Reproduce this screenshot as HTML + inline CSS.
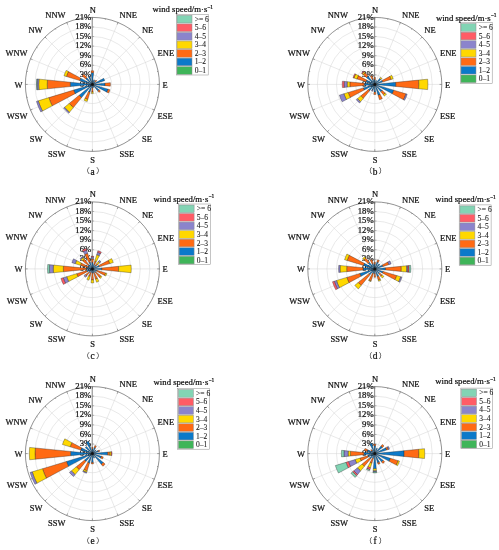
<!DOCTYPE html>
<html lang="en"><head><meta charset="utf-8"><title>Wind rose diagrams</title>
<style>html,body{margin:0;padding:0;background:#fff}svg{display:block}text{font-family:"Liberation Serif","Noto Serif CJK SC",serif;fill:#111;stroke:#111;stroke-width:0.22px}.d{font-size:8.5px}.p{font-size:8.7px}.l{font-size:7.5px;stroke-width:0.08px;fill:#1a1a1a}.t{font-size:8.7px}.c{font-size:9.4px}.q{font-family:"Noto Serif CJK SC","Liberation Serif",serif;font-size:7.5px;stroke-width:0.05px}</style></head>
<body>
<svg width="499" height="550" viewBox="0 0 499 550">
<rect width="499" height="550" fill="#fff"/>
<g transform="translate(92.4 84.4)">
<g>
<circle r="9.57" fill="none" stroke="#d2d2d2" stroke-width="0.5"/>
<circle r="19.14" fill="none" stroke="#d2d2d2" stroke-width="0.5"/>
<circle r="28.71" fill="none" stroke="#d2d2d2" stroke-width="0.5"/>
<circle r="38.29" fill="none" stroke="#d2d2d2" stroke-width="0.5"/>
<circle r="47.86" fill="none" stroke="#d2d2d2" stroke-width="0.5"/>
<circle r="57.43" fill="none" stroke="#d2d2d2" stroke-width="0.5"/>
<path d="M0 0L0 -67M0 0L25.64 -61.9M0 0L47.38 -47.38M0 0L61.9 -25.64M0 0L67 -0M0 0L61.9 25.64M0 0L47.38 47.38M0 0L25.64 61.9M0 0L0 67M0 0L-25.64 61.9M0 0L-47.38 47.38M0 0L-61.9 25.64M0 0L-67 0M0 0L-61.9 -25.64M0 0L-47.38 -47.38M0 0L-25.64 -61.9" stroke="#d2d2d2" stroke-width="0.5" fill="none"/>
<circle r="67" fill="none" stroke="#4a4a4a" stroke-width="0.6"/>
<path d="M0 -67L0 -64.8M13.07 -65.71L12.86 -64.63M25.64 -61.9L24.8 -59.87M37.22 -55.71L36.61 -54.79M47.38 -47.38L45.82 -45.82M55.71 -37.22L54.79 -36.61M61.9 -25.64L59.87 -24.8M65.71 -13.07L64.63 -12.86M67 -0L64.8 -0M65.71 13.07L64.63 12.86M61.9 25.64L59.87 24.8M55.71 37.22L54.79 36.61M47.38 47.38L45.82 45.82M37.22 55.71L36.61 54.79M25.64 61.9L24.8 59.87M13.07 65.71L12.86 64.63M0 67L0 64.8M-13.07 65.71L-12.86 64.63M-25.64 61.9L-24.8 59.87M-37.22 55.71L-36.61 54.79M-47.38 47.38L-45.82 45.82M-55.71 37.22L-54.79 36.61M-61.9 25.64L-59.87 24.8M-65.71 13.07L-64.63 12.86M-67 0L-64.8 0M-65.71 -13.07L-64.63 -12.86M-61.9 -25.64L-59.87 -24.8M-55.71 -37.22L-54.79 -36.61M-47.38 -47.38L-45.82 -45.82M-37.22 -55.71L-36.61 -54.79M-25.64 -61.9L-24.8 -59.87M-13.07 -65.71L-12.86 -64.63" stroke="#4a4a4a" stroke-width="0.5" fill="none"/>
<path d="M-0.2 0V-67" stroke="#444" stroke-width="0.6" fill="none"/>
<path d="M0.1 -9.57h1.6M0.1 -19.14h1.6M0.1 -28.71h1.6M0.1 -38.29h1.6M0.1 -47.86h1.6M0.1 -57.43h1.6" stroke="#666" stroke-width="0.45" fill="none"/>
<text class="p" x="-1.1" y="2.15" text-anchor="end">0%</text>
<text class="p" x="-1.1" y="-7.42" text-anchor="end">3%</text>
<text class="p" x="-1.1" y="-16.99" text-anchor="end">6%</text>
<text class="p" x="-1.1" y="-26.56" text-anchor="end">9%</text>
<text class="p" x="-1.1" y="-36.14" text-anchor="end">12%</text>
<text class="p" x="-1.1" y="-45.71" text-anchor="end">15%</text>
<text class="p" x="-1.1" y="-55.28" text-anchor="end">18%</text>
<text class="p" x="-1.1" y="-64.85" text-anchor="end">21%</text>
<text class="d" x="0.3" y="-71.55" text-anchor="middle">N</text>
<text class="d" x="27.2" y="-66.35" text-anchor="start">NNE</text>
<text class="d" x="49.5" y="-51.35" text-anchor="start">NE</text>
<text class="d" x="65.2" y="-28.35" text-anchor="start">ENE</text>
<text class="d" x="70.2" y="3.25" text-anchor="start">E</text>
<text class="d" x="65.2" y="34.75" text-anchor="start">ESE</text>
<text class="d" x="49.5" y="57.65" text-anchor="start">SE</text>
<text class="d" x="27.2" y="72.65" text-anchor="start">SSE</text>
<text class="d" x="0.3" y="78.15" text-anchor="middle">S</text>
<text class="d" x="-26.8" y="72.65" text-anchor="end">SSW</text>
<text class="d" x="-49.8" y="57.65" text-anchor="end">SW</text>
<text class="d" x="-64.8" y="34.75" text-anchor="end">WSW</text>
<text class="d" x="-69.8" y="3.25" text-anchor="end">W</text>
<text class="d" x="-64.8" y="-28.55" text-anchor="end">WNW</text>
<text class="d" x="-49.8" y="-50.95" text-anchor="end">NW</text>
<text class="d" x="-26.8" y="-66.05" text-anchor="end">NNW</text>
</g>
<path d="M0 0L-1.15 -11.64A11.7 11.7 0 0 1 1.15 -11.64Z" fill="#0b79c9" stroke="#151515" stroke-width="0.33" stroke-linejoin="round"/>
<path d="M-1.15 -11.64L-1.33 -13.53A13.6 13.6 0 0 1 1.33 -13.53L1.15 -11.64A11.7 11.7 0 0 0 -1.15 -11.64Z" fill="#ff6a14" stroke="#151515" stroke-width="0.33" stroke-linejoin="round"/>
<path d="M0 0L1.38 -4.54A4.74 4.74 0 0 1 2.24 -4.18Z" fill="#0b79c9" stroke="#151515" stroke-width="0.33" stroke-linejoin="round"/>
<path d="M0 0L2.41 -2.93A3.79 3.79 0 0 1 2.93 -2.41Z" fill="#0b79c9" stroke="#151515" stroke-width="0.33" stroke-linejoin="round"/>
<path d="M2.41 -2.93L3.51 -4.28A5.53 5.53 0 0 1 4.28 -3.51L2.93 -2.41A3.79 3.79 0 0 0 2.41 -2.93Z" fill="#ff6a14" stroke="#151515" stroke-width="0.33" stroke-linejoin="round"/>
<path d="M0 0L11.32 -6.05A12.84 12.84 0 0 1 12.28 -3.73Z" fill="#0b79c9" stroke="#151515" stroke-width="0.33" stroke-linejoin="round"/>
<path d="M0 0L12.59 -1.24A12.65 12.65 0 0 1 12.59 1.24Z" fill="#0b79c9" stroke="#151515" stroke-width="0.33" stroke-linejoin="round"/>
<path d="M12.59 -1.24L17.94 -1.77A18.02 18.02 0 0 1 17.94 1.77L12.59 1.24A12.65 12.65 0 0 0 12.59 -1.24Z" fill="#ff6a14" stroke="#151515" stroke-width="0.33" stroke-linejoin="round"/>
<path d="M0 0L15.73 4.77A16.44 16.44 0 0 1 14.5 7.75Z" fill="#0b79c9" stroke="#151515" stroke-width="0.33" stroke-linejoin="round"/>
<path d="M15.73 4.77L17.55 5.32A18.34 18.34 0 0 1 16.17 8.64L14.5 7.75A16.44 16.44 0 0 0 15.73 4.77Z" fill="#ff6a14" stroke="#151515" stroke-width="0.33" stroke-linejoin="round"/>
<path d="M0 0L6.6 5.42A8.54 8.54 0 0 1 5.42 6.6Z" fill="#0b79c9" stroke="#151515" stroke-width="0.33" stroke-linejoin="round"/>
<path d="M6.6 5.42L8.07 6.62A10.43 10.43 0 0 1 6.62 8.07L5.42 6.6A8.54 8.54 0 0 0 6.6 5.42Z" fill="#ff6a14" stroke="#151515" stroke-width="0.33" stroke-linejoin="round"/>
<path d="M0 0L1.49 2.79A3.16 3.16 0 0 1 0.92 3.03Z" fill="#0b79c9" stroke="#151515" stroke-width="0.33" stroke-linejoin="round"/>
<path d="M0 0L0.34 3.46A3.48 3.48 0 0 1 -0.34 3.46Z" fill="#0b79c9" stroke="#151515" stroke-width="0.33" stroke-linejoin="round"/>
<path d="M0.34 3.46L0.74 7.55A7.59 7.59 0 0 1 -0.74 7.55L-0.34 3.46A3.48 3.48 0 0 0 0.34 3.46Z" fill="#ff6a14" stroke="#151515" stroke-width="0.33" stroke-linejoin="round"/>
<path d="M0.74 7.55L0.9 9.13A9.17 9.17 0 0 1 -0.9 9.13L-0.74 7.55A7.59 7.59 0 0 0 0.74 7.55Z" fill="#ffd800" stroke="#151515" stroke-width="0.33" stroke-linejoin="round"/>
<path d="M0 0L-2.39 7.87A8.22 8.22 0 0 1 -3.88 7.25Z" fill="#0b79c9" stroke="#151515" stroke-width="0.33" stroke-linejoin="round"/>
<path d="M-2.39 7.87L-4.59 15.13A15.81 15.81 0 0 1 -7.45 13.94L-3.88 7.25A8.22 8.22 0 0 0 -2.39 7.87Z" fill="#ff6a14" stroke="#151515" stroke-width="0.33" stroke-linejoin="round"/>
<path d="M-4.59 15.13L-5.19 17.1A17.86 17.86 0 0 1 -8.42 15.76L-7.45 13.94A15.81 15.81 0 0 0 -4.59 15.13Z" fill="#ffd800" stroke="#151515" stroke-width="0.33" stroke-linejoin="round"/>
<path d="M0 0L-10.83 13.2A17.07 17.07 0 0 1 -13.2 10.83Z" fill="#0b79c9" stroke="#151515" stroke-width="0.33" stroke-linejoin="round"/>
<path d="M-10.83 13.2L-19.06 23.22A30.04 30.04 0 0 1 -23.22 19.06L-13.2 10.83A17.07 17.07 0 0 0 -10.83 13.2Z" fill="#ff6a14" stroke="#151515" stroke-width="0.33" stroke-linejoin="round"/>
<path d="M-19.06 23.22L-22.87 27.86A36.05 36.05 0 0 1 -27.86 22.87L-23.22 19.06A30.04 30.04 0 0 0 -19.06 23.22Z" fill="#ffd800" stroke="#151515" stroke-width="0.33" stroke-linejoin="round"/>
<path d="M-22.87 27.86L-23.67 28.84A37.31 37.31 0 0 1 -28.84 23.67L-27.86 22.87A36.05 36.05 0 0 0 -22.87 27.86Z" fill="#8b84cc" stroke="#151515" stroke-width="0.33" stroke-linejoin="round"/>
<path d="M0 0L-17.29 9.24A19.6 19.6 0 0 1 -18.76 5.69Z" fill="#0b79c9" stroke="#151515" stroke-width="0.33" stroke-linejoin="round"/>
<path d="M-17.29 9.24L-40.16 21.46A45.53 45.53 0 0 1 -43.57 13.22L-18.76 5.69A19.6 19.6 0 0 0 -17.29 9.24Z" fill="#ff6a14" stroke="#151515" stroke-width="0.33" stroke-linejoin="round"/>
<path d="M-40.16 21.46L-49.92 26.68A56.6 56.6 0 0 1 -54.16 16.43L-43.57 13.22A45.53 45.53 0 0 0 -40.16 21.46Z" fill="#ffd800" stroke="#151515" stroke-width="0.33" stroke-linejoin="round"/>
<path d="M-49.92 26.68L-51.59 27.57A58.5 58.5 0 0 1 -55.98 16.98L-54.16 16.43A56.6 56.6 0 0 0 -49.92 26.68Z" fill="#8b84cc" stroke="#151515" stroke-width="0.33" stroke-linejoin="round"/>
<path d="M0 0L-22.03 2.17A22.13 22.13 0 0 1 -22.03 -2.17Z" fill="#0b79c9" stroke="#151515" stroke-width="0.33" stroke-linejoin="round"/>
<path d="M-22.03 2.17L-45 4.43A45.22 45.22 0 0 1 -45 -4.43L-22.03 -2.17A22.13 22.13 0 0 0 -22.03 2.17Z" fill="#ff6a14" stroke="#151515" stroke-width="0.33" stroke-linejoin="round"/>
<path d="M-45 4.43L-53.49 5.27A53.75 53.75 0 0 1 -53.49 -5.27L-45 -4.43A45.22 45.22 0 0 0 -45 4.43Z" fill="#ffd800" stroke="#151515" stroke-width="0.33" stroke-linejoin="round"/>
<path d="M-53.49 5.27L-55.07 5.42A55.33 55.33 0 0 1 -55.07 -5.42L-53.49 -5.27A53.75 53.75 0 0 0 -53.49 5.27Z" fill="#8b84cc" stroke="#151515" stroke-width="0.33" stroke-linejoin="round"/>
<path d="M-55.07 5.42L-55.7 5.49A55.97 55.97 0 0 1 -55.7 -5.49L-55.07 -5.42A55.33 55.33 0 0 0 -55.07 5.42Z" fill="#82d4b4" stroke="#151515" stroke-width="0.33" stroke-linejoin="round"/>
<path d="M0 0L-12.71 -3.85A13.28 13.28 0 0 1 -11.71 -6.26Z" fill="#0b79c9" stroke="#151515" stroke-width="0.33" stroke-linejoin="round"/>
<path d="M-12.71 -3.85L-26.02 -7.89A27.19 27.19 0 0 1 -23.98 -12.82L-11.71 -6.26A13.28 13.28 0 0 0 -12.71 -3.85Z" fill="#ff6a14" stroke="#151515" stroke-width="0.33" stroke-linejoin="round"/>
<path d="M-26.02 -7.89L-28.44 -8.63A29.72 29.72 0 0 1 -26.21 -14.01L-23.98 -12.82A27.19 27.19 0 0 0 -26.02 -7.89Z" fill="#ffd800" stroke="#151515" stroke-width="0.33" stroke-linejoin="round"/>
<path d="M0 0L-6.6 -5.42A8.54 8.54 0 0 1 -5.42 -6.6Z" fill="#0b79c9" stroke="#151515" stroke-width="0.33" stroke-linejoin="round"/>
<path d="M-6.6 -5.42L-10.27 -8.42A13.28 13.28 0 0 1 -8.42 -10.27L-5.42 -6.6A8.54 8.54 0 0 0 -6.6 -5.42Z" fill="#ff6a14" stroke="#151515" stroke-width="0.33" stroke-linejoin="round"/>
<path d="M0 0L-3.88 -7.25A8.22 8.22 0 0 1 -2.39 -7.87Z" fill="#0b79c9" stroke="#151515" stroke-width="0.33" stroke-linejoin="round"/>
<circle r="1.5" fill="#111" fill-opacity="0.85"/>
<text class="c" x="0.3" y="90.5" text-anchor="middle">a</text><text class="q" x="-2.4" y="90.1" text-anchor="end">（</text><text class="q" x="3.6" y="90.1" text-anchor="start">）</text>
</g>
<g transform="translate(176.3 14.4)">
<rect x="0" y="0" width="31.9" height="60.6" fill="#fff" stroke="#8a8a8a" stroke-width="0.5"/>
<rect x="0.7" y="1" width="15" height="7.6" fill="#82d4b4" stroke="#8f8f8f" stroke-width="0.5"/>
<text class="l" x="18.4" y="7.3">&gt;= 6</text>
<rect x="0.7" y="9.55" width="15" height="7.6" fill="#ff5c66" stroke="#8f8f8f" stroke-width="0.5"/>
<text class="l" x="18.4" y="15.85">5–6</text>
<rect x="0.7" y="18.1" width="15" height="7.6" fill="#8b84cc" stroke="#8f8f8f" stroke-width="0.5"/>
<text class="l" x="18.4" y="24.4">4–5</text>
<rect x="0.7" y="26.65" width="15" height="7.6" fill="#ffd800" stroke="#8f8f8f" stroke-width="0.5"/>
<text class="l" x="18.4" y="32.95">3–4</text>
<rect x="0.7" y="35.2" width="15" height="7.6" fill="#ff6a14" stroke="#8f8f8f" stroke-width="0.5"/>
<text class="l" x="18.4" y="41.5">2–3</text>
<rect x="0.7" y="43.75" width="15" height="7.6" fill="#0b79c9" stroke="#8f8f8f" stroke-width="0.5"/>
<text class="l" x="18.4" y="50.05">1–2</text>
<rect x="0.7" y="52.3" width="15" height="7.6" fill="#3fb559" stroke="#8f8f8f" stroke-width="0.5"/>
<text class="l" x="18.4" y="58.6">0–1</text>
</g>
<text class="t" x="152.5" y="11.9">wind speed/m·s<tspan font-size="5.4" dy="-3.2">−1</tspan></text>
<g transform="translate(374.8 84.4)">
<g>
<circle r="9.57" fill="none" stroke="#d2d2d2" stroke-width="0.5"/>
<circle r="19.14" fill="none" stroke="#d2d2d2" stroke-width="0.5"/>
<circle r="28.71" fill="none" stroke="#d2d2d2" stroke-width="0.5"/>
<circle r="38.29" fill="none" stroke="#d2d2d2" stroke-width="0.5"/>
<circle r="47.86" fill="none" stroke="#d2d2d2" stroke-width="0.5"/>
<circle r="57.43" fill="none" stroke="#d2d2d2" stroke-width="0.5"/>
<path d="M0 0L0 -67M0 0L25.64 -61.9M0 0L47.38 -47.38M0 0L61.9 -25.64M0 0L67 -0M0 0L61.9 25.64M0 0L47.38 47.38M0 0L25.64 61.9M0 0L0 67M0 0L-25.64 61.9M0 0L-47.38 47.38M0 0L-61.9 25.64M0 0L-67 0M0 0L-61.9 -25.64M0 0L-47.38 -47.38M0 0L-25.64 -61.9" stroke="#d2d2d2" stroke-width="0.5" fill="none"/>
<circle r="67" fill="none" stroke="#4a4a4a" stroke-width="0.6"/>
<path d="M0 -67L0 -64.8M13.07 -65.71L12.86 -64.63M25.64 -61.9L24.8 -59.87M37.22 -55.71L36.61 -54.79M47.38 -47.38L45.82 -45.82M55.71 -37.22L54.79 -36.61M61.9 -25.64L59.87 -24.8M65.71 -13.07L64.63 -12.86M67 -0L64.8 -0M65.71 13.07L64.63 12.86M61.9 25.64L59.87 24.8M55.71 37.22L54.79 36.61M47.38 47.38L45.82 45.82M37.22 55.71L36.61 54.79M25.64 61.9L24.8 59.87M13.07 65.71L12.86 64.63M0 67L0 64.8M-13.07 65.71L-12.86 64.63M-25.64 61.9L-24.8 59.87M-37.22 55.71L-36.61 54.79M-47.38 47.38L-45.82 45.82M-55.71 37.22L-54.79 36.61M-61.9 25.64L-59.87 24.8M-65.71 13.07L-64.63 12.86M-67 0L-64.8 0M-65.71 -13.07L-64.63 -12.86M-61.9 -25.64L-59.87 -24.8M-55.71 -37.22L-54.79 -36.61M-47.38 -47.38L-45.82 -45.82M-37.22 -55.71L-36.61 -54.79M-25.64 -61.9L-24.8 -59.87M-13.07 -65.71L-12.86 -64.63" stroke="#4a4a4a" stroke-width="0.5" fill="none"/>
<path d="M-0.2 0V-67" stroke="#444" stroke-width="0.6" fill="none"/>
<path d="M0.1 -9.57h1.6M0.1 -19.14h1.6M0.1 -28.71h1.6M0.1 -38.29h1.6M0.1 -47.86h1.6M0.1 -57.43h1.6" stroke="#666" stroke-width="0.45" fill="none"/>
<text class="p" x="-1.1" y="2.15" text-anchor="end">0%</text>
<text class="p" x="-1.1" y="-7.42" text-anchor="end">3%</text>
<text class="p" x="-1.1" y="-16.99" text-anchor="end">6%</text>
<text class="p" x="-1.1" y="-26.56" text-anchor="end">9%</text>
<text class="p" x="-1.1" y="-36.14" text-anchor="end">12%</text>
<text class="p" x="-1.1" y="-45.71" text-anchor="end">15%</text>
<text class="p" x="-1.1" y="-55.28" text-anchor="end">18%</text>
<text class="p" x="-1.1" y="-64.85" text-anchor="end">21%</text>
<text class="d" x="0.3" y="-71.55" text-anchor="middle">N</text>
<text class="d" x="27.2" y="-66.35" text-anchor="start">NNE</text>
<text class="d" x="49.5" y="-51.35" text-anchor="start">NE</text>
<text class="d" x="65.2" y="-28.35" text-anchor="start">ENE</text>
<text class="d" x="70.2" y="3.25" text-anchor="start">E</text>
<text class="d" x="65.2" y="34.75" text-anchor="start">ESE</text>
<text class="d" x="49.5" y="57.65" text-anchor="start">SE</text>
<text class="d" x="27.2" y="72.65" text-anchor="start">SSE</text>
<text class="d" x="0.3" y="78.15" text-anchor="middle">S</text>
<text class="d" x="-26.8" y="72.65" text-anchor="end">SSW</text>
<text class="d" x="-49.8" y="57.65" text-anchor="end">SW</text>
<text class="d" x="-64.8" y="34.75" text-anchor="end">WSW</text>
<text class="d" x="-69.8" y="3.25" text-anchor="end">W</text>
<text class="d" x="-64.8" y="-28.55" text-anchor="end">WNW</text>
<text class="d" x="-49.8" y="-50.95" text-anchor="end">NW</text>
<text class="d" x="-26.8" y="-66.05" text-anchor="end">NNW</text>
</g>
<path d="M0 0L-0.46 -4.72A4.74 4.74 0 0 1 0.46 -4.72Z" fill="#0b79c9" stroke="#151515" stroke-width="0.33" stroke-linejoin="round"/>
<path d="M-0.46 -4.72L-0.68 -6.92A6.96 6.96 0 0 1 0.68 -6.92L0.46 -4.72A4.74 4.74 0 0 0 -0.46 -4.72Z" fill="#ff6a14" stroke="#151515" stroke-width="0.33" stroke-linejoin="round"/>
<path d="M0 0L1.19 -3.93A4.11 4.11 0 0 1 1.94 -3.63Z" fill="#0b79c9" stroke="#151515" stroke-width="0.33" stroke-linejoin="round"/>
<path d="M0 0L5.01 -6.11A7.9 7.9 0 0 1 6.11 -5.01Z" fill="#0b79c9" stroke="#151515" stroke-width="0.33" stroke-linejoin="round"/>
<path d="M5.01 -6.11L5.82 -7.09A9.17 9.17 0 0 1 7.09 -5.82L6.11 -5.01A7.9 7.9 0 0 0 5.01 -6.11Z" fill="#ffd800" stroke="#151515" stroke-width="0.33" stroke-linejoin="round"/>
<path d="M0 0L7.25 -3.88A8.22 8.22 0 0 1 7.87 -2.39Z" fill="#0b79c9" stroke="#151515" stroke-width="0.33" stroke-linejoin="round"/>
<path d="M7.25 -3.88L15.06 -8.05A17.07 17.07 0 0 1 16.34 -4.96L7.87 -2.39A8.22 8.22 0 0 0 7.25 -3.88Z" fill="#ff6a14" stroke="#151515" stroke-width="0.33" stroke-linejoin="round"/>
<path d="M15.06 -8.05L16.93 -9.05A19.19 19.19 0 0 1 18.37 -5.57L16.34 -4.96A17.07 17.07 0 0 0 15.06 -8.05Z" fill="#ffd800" stroke="#151515" stroke-width="0.33" stroke-linejoin="round"/>
<path d="M0 0L20.96 -2.06A21.06 21.06 0 0 1 20.96 2.06Z" fill="#0b79c9" stroke="#151515" stroke-width="0.33" stroke-linejoin="round"/>
<path d="M20.96 -2.06L43.9 -4.32A44.11 44.11 0 0 1 43.9 4.32L20.96 2.06A21.06 21.06 0 0 0 20.96 -2.06Z" fill="#ff6a14" stroke="#151515" stroke-width="0.33" stroke-linejoin="round"/>
<path d="M43.9 -4.32L52.86 -5.21A53.12 53.12 0 0 1 52.86 5.21L43.9 4.32A44.11 44.11 0 0 0 43.9 -4.32Z" fill="#ffd800" stroke="#151515" stroke-width="0.33" stroke-linejoin="round"/>
<path d="M0 0L18.97 5.75A19.83 19.83 0 0 1 17.48 9.35Z" fill="#0b79c9" stroke="#151515" stroke-width="0.33" stroke-linejoin="round"/>
<path d="M18.97 5.75L31.17 9.45A32.57 32.57 0 0 1 28.72 15.35L17.48 9.35A19.83 19.83 0 0 0 18.97 5.75Z" fill="#ff6a14" stroke="#151515" stroke-width="0.33" stroke-linejoin="round"/>
<path d="M31.17 9.45L32.38 9.82A33.83 33.83 0 0 1 29.84 15.95L28.72 15.35A32.57 32.57 0 0 0 31.17 9.45Z" fill="#8b84cc" stroke="#151515" stroke-width="0.33" stroke-linejoin="round"/>
<path d="M0 0L7.33 6.02A9.49 9.49 0 0 1 6.02 7.33Z" fill="#0b79c9" stroke="#151515" stroke-width="0.33" stroke-linejoin="round"/>
<path d="M7.33 6.02L10.39 8.53A13.44 13.44 0 0 1 8.53 10.39L6.02 7.33A9.49 9.49 0 0 0 7.33 6.02Z" fill="#ff6a14" stroke="#151515" stroke-width="0.33" stroke-linejoin="round"/>
<path d="M10.39 8.53L11.73 9.63A15.18 15.18 0 0 1 9.63 11.73L8.53 10.39A13.44 13.44 0 0 0 10.39 8.53Z" fill="#ffd800" stroke="#151515" stroke-width="0.33" stroke-linejoin="round"/>
<path d="M0 0L5.37 10.04A11.38 11.38 0 0 1 3.3 10.89Z" fill="#0b79c9" stroke="#151515" stroke-width="0.33" stroke-linejoin="round"/>
<path d="M5.37 10.04L7.54 14.11A16 16 0 0 1 4.64 15.31L3.3 10.89A11.38 11.38 0 0 0 5.37 10.04Z" fill="#ff6a14" stroke="#151515" stroke-width="0.33" stroke-linejoin="round"/>
<path d="M0 0L0.74 7.55A7.59 7.59 0 0 1 -0.74 7.55Z" fill="#0b79c9" stroke="#151515" stroke-width="0.33" stroke-linejoin="round"/>
<path d="M0.74 7.55L0.99 10.07A10.12 10.12 0 0 1 -0.99 10.07L-0.74 7.55A7.59 7.59 0 0 0 0.74 7.55Z" fill="#ff6a14" stroke="#151515" stroke-width="0.33" stroke-linejoin="round"/>
<path d="M0 0L-1.74 5.75A6.01 6.01 0 0 1 -2.83 5.3Z" fill="#0b79c9" stroke="#151515" stroke-width="0.33" stroke-linejoin="round"/>
<path d="M-1.74 5.75L-2.11 6.96A7.27 7.27 0 0 1 -3.43 6.41L-2.83 5.3A6.01 6.01 0 0 0 -1.74 5.75Z" fill="#8b84cc" stroke="#151515" stroke-width="0.33" stroke-linejoin="round"/>
<path d="M0 0L-5.22 6.35A8.22 8.22 0 0 1 -6.35 5.22Z" fill="#0b79c9" stroke="#151515" stroke-width="0.33" stroke-linejoin="round"/>
<path d="M-5.22 6.35L-11.43 13.93A18.02 18.02 0 0 1 -13.93 11.43L-6.35 5.22A8.22 8.22 0 0 0 -5.22 6.35Z" fill="#ff6a14" stroke="#151515" stroke-width="0.33" stroke-linejoin="round"/>
<path d="M-11.43 13.93L-14.24 17.35A22.45 22.45 0 0 1 -17.35 14.24L-13.93 11.43A18.02 18.02 0 0 0 -11.43 13.93Z" fill="#ffd800" stroke="#151515" stroke-width="0.33" stroke-linejoin="round"/>
<path d="M-14.24 17.35L-15.24 18.58A24.03 24.03 0 0 1 -18.58 15.24L-17.35 14.24A22.45 22.45 0 0 0 -14.24 17.35Z" fill="#8b84cc" stroke="#151515" stroke-width="0.33" stroke-linejoin="round"/>
<path d="M0 0L-10.6 5.66A12.02 12.02 0 0 1 -11.5 3.49Z" fill="#0b79c9" stroke="#151515" stroke-width="0.33" stroke-linejoin="round"/>
<path d="M-10.6 5.66L-24.54 13.12A27.82 27.82 0 0 1 -26.63 8.08L-11.5 3.49A12.02 12.02 0 0 0 -10.6 5.66Z" fill="#ff6a14" stroke="#151515" stroke-width="0.33" stroke-linejoin="round"/>
<path d="M-24.54 13.12L-28.44 15.2A32.25 32.25 0 0 1 -30.86 9.36L-26.63 8.08A27.82 27.82 0 0 0 -24.54 13.12Z" fill="#ffd800" stroke="#151515" stroke-width="0.33" stroke-linejoin="round"/>
<path d="M-28.44 15.2L-32.63 17.44A36.99 36.99 0 0 1 -35.4 10.74L-30.86 9.36A32.25 32.25 0 0 0 -28.44 15.2Z" fill="#8b84cc" stroke="#151515" stroke-width="0.33" stroke-linejoin="round"/>
<path d="M0 0L-10.54 1.04A10.59 10.59 0 0 1 -10.54 -1.04Z" fill="#0b79c9" stroke="#151515" stroke-width="0.33" stroke-linejoin="round"/>
<path d="M-10.54 1.04L-24.86 2.45A24.98 24.98 0 0 1 -24.86 -2.45L-10.54 -1.04A10.59 10.59 0 0 0 -10.54 1.04Z" fill="#ff6a14" stroke="#151515" stroke-width="0.33" stroke-linejoin="round"/>
<path d="M-24.86 2.45L-27.56 2.71A27.7 27.7 0 0 1 -27.56 -2.71L-24.86 -2.45A24.98 24.98 0 0 0 -24.86 2.45Z" fill="#ffd800" stroke="#151515" stroke-width="0.33" stroke-linejoin="round"/>
<path d="M-27.56 2.71L-30.52 3.01A30.67 30.67 0 0 1 -30.52 -3.01L-27.56 -2.71A27.7 27.7 0 0 0 -27.56 2.71Z" fill="#8b84cc" stroke="#151515" stroke-width="0.33" stroke-linejoin="round"/>
<path d="M-30.52 3.01L-32.41 3.19A32.57 32.57 0 0 1 -32.41 -3.19L-30.52 -3.01A30.67 30.67 0 0 0 -30.52 3.01Z" fill="#ff5c66" stroke="#151515" stroke-width="0.33" stroke-linejoin="round"/>
<path d="M0 0L-8.77 -2.66A9.17 9.17 0 0 1 -8.09 -4.32Z" fill="#0b79c9" stroke="#151515" stroke-width="0.33" stroke-linejoin="round"/>
<path d="M-8.77 -2.66L-17.85 -5.42A18.66 18.66 0 0 1 -16.45 -8.79L-8.09 -4.32A9.17 9.17 0 0 0 -8.77 -2.66Z" fill="#ff6a14" stroke="#151515" stroke-width="0.33" stroke-linejoin="round"/>
<path d="M-17.85 -5.42L-20.88 -6.33A21.82 21.82 0 0 1 -19.24 -10.28L-16.45 -8.79A18.66 18.66 0 0 0 -17.85 -5.42Z" fill="#ffd800" stroke="#151515" stroke-width="0.33" stroke-linejoin="round"/>
<path d="M-20.88 -6.33L-21.79 -6.61A22.77 22.77 0 0 1 -20.08 -10.73L-19.24 -10.28A21.82 21.82 0 0 0 -20.88 -6.33Z" fill="#ff5c66" stroke="#151515" stroke-width="0.33" stroke-linejoin="round"/>
<path d="M0 0L-8.31 -6.82A10.75 10.75 0 0 1 -6.82 -8.31Z" fill="#0b79c9" stroke="#151515" stroke-width="0.33" stroke-linejoin="round"/>
<path d="M-8.31 -6.82L-11.73 -9.63A15.18 15.18 0 0 1 -9.63 -11.73L-6.82 -8.31A10.75 10.75 0 0 0 -8.31 -6.82Z" fill="#ff6a14" stroke="#151515" stroke-width="0.33" stroke-linejoin="round"/>
<path d="M-11.73 -9.63L-12.71 -10.43A16.44 16.44 0 0 1 -10.43 -12.71L-9.63 -11.73A15.18 15.18 0 0 0 -11.73 -9.63Z" fill="#ffd800" stroke="#151515" stroke-width="0.33" stroke-linejoin="round"/>
<path d="M-12.71 -10.43L-13.44 -11.03A17.39 17.39 0 0 1 -11.03 -13.44L-10.43 -12.71A16.44 16.44 0 0 0 -12.71 -10.43Z" fill="#ff5c66" stroke="#151515" stroke-width="0.33" stroke-linejoin="round"/>
<path d="M0 0L-2.68 -5.02A5.69 5.69 0 0 1 -1.65 -5.45Z" fill="#0b79c9" stroke="#151515" stroke-width="0.33" stroke-linejoin="round"/>
<path d="M-2.68 -5.02L-4.32 -8.09A9.17 9.17 0 0 1 -2.66 -8.77L-1.65 -5.45A5.69 5.69 0 0 0 -2.68 -5.02Z" fill="#ff6a14" stroke="#151515" stroke-width="0.33" stroke-linejoin="round"/>
<circle r="1.5" fill="#111" fill-opacity="0.85"/>
<text class="c" x="0.3" y="90.5" text-anchor="middle">b</text><text class="q" x="-2.4" y="90.1" text-anchor="end">（</text><text class="q" x="3.6" y="90.1" text-anchor="start">）</text>
</g>
<g transform="translate(460.3 22.7)">
<rect x="0" y="0" width="31.9" height="60.6" fill="#fff" stroke="#8a8a8a" stroke-width="0.5"/>
<rect x="0.7" y="1" width="15" height="7.6" fill="#82d4b4" stroke="#8f8f8f" stroke-width="0.5"/>
<text class="l" x="18.4" y="7.3">&gt;= 6</text>
<rect x="0.7" y="9.55" width="15" height="7.6" fill="#ff5c66" stroke="#8f8f8f" stroke-width="0.5"/>
<text class="l" x="18.4" y="15.85">5–6</text>
<rect x="0.7" y="18.1" width="15" height="7.6" fill="#8b84cc" stroke="#8f8f8f" stroke-width="0.5"/>
<text class="l" x="18.4" y="24.4">4–5</text>
<rect x="0.7" y="26.65" width="15" height="7.6" fill="#ffd800" stroke="#8f8f8f" stroke-width="0.5"/>
<text class="l" x="18.4" y="32.95">3–4</text>
<rect x="0.7" y="35.2" width="15" height="7.6" fill="#ff6a14" stroke="#8f8f8f" stroke-width="0.5"/>
<text class="l" x="18.4" y="41.5">2–3</text>
<rect x="0.7" y="43.75" width="15" height="7.6" fill="#0b79c9" stroke="#8f8f8f" stroke-width="0.5"/>
<text class="l" x="18.4" y="50.05">1–2</text>
<rect x="0.7" y="52.3" width="15" height="7.6" fill="#3fb559" stroke="#8f8f8f" stroke-width="0.5"/>
<text class="l" x="18.4" y="58.6">0–1</text>
</g>
<text class="t" x="435.9" y="20.5">wind speed/m·s<tspan font-size="5.4" dy="-3.2">−1</tspan></text>
<g transform="translate(92.4 268.9)">
<g>
<circle r="9.57" fill="none" stroke="#d2d2d2" stroke-width="0.5"/>
<circle r="19.14" fill="none" stroke="#d2d2d2" stroke-width="0.5"/>
<circle r="28.71" fill="none" stroke="#d2d2d2" stroke-width="0.5"/>
<circle r="38.29" fill="none" stroke="#d2d2d2" stroke-width="0.5"/>
<circle r="47.86" fill="none" stroke="#d2d2d2" stroke-width="0.5"/>
<circle r="57.43" fill="none" stroke="#d2d2d2" stroke-width="0.5"/>
<path d="M0 0L0 -67M0 0L25.64 -61.9M0 0L47.38 -47.38M0 0L61.9 -25.64M0 0L67 -0M0 0L61.9 25.64M0 0L47.38 47.38M0 0L25.64 61.9M0 0L0 67M0 0L-25.64 61.9M0 0L-47.38 47.38M0 0L-61.9 25.64M0 0L-67 0M0 0L-61.9 -25.64M0 0L-47.38 -47.38M0 0L-25.64 -61.9" stroke="#d2d2d2" stroke-width="0.5" fill="none"/>
<circle r="67" fill="none" stroke="#4a4a4a" stroke-width="0.6"/>
<path d="M0 -67L0 -64.8M13.07 -65.71L12.86 -64.63M25.64 -61.9L24.8 -59.87M37.22 -55.71L36.61 -54.79M47.38 -47.38L45.82 -45.82M55.71 -37.22L54.79 -36.61M61.9 -25.64L59.87 -24.8M65.71 -13.07L64.63 -12.86M67 -0L64.8 -0M65.71 13.07L64.63 12.86M61.9 25.64L59.87 24.8M55.71 37.22L54.79 36.61M47.38 47.38L45.82 45.82M37.22 55.71L36.61 54.79M25.64 61.9L24.8 59.87M13.07 65.71L12.86 64.63M0 67L0 64.8M-13.07 65.71L-12.86 64.63M-25.64 61.9L-24.8 59.87M-37.22 55.71L-36.61 54.79M-47.38 47.38L-45.82 45.82M-55.71 37.22L-54.79 36.61M-61.9 25.64L-59.87 24.8M-65.71 13.07L-64.63 12.86M-67 0L-64.8 0M-65.71 -13.07L-64.63 -12.86M-61.9 -25.64L-59.87 -24.8M-55.71 -37.22L-54.79 -36.61M-47.38 -47.38L-45.82 -45.82M-37.22 -55.71L-36.61 -54.79M-25.64 -61.9L-24.8 -59.87M-13.07 -65.71L-12.86 -64.63" stroke="#4a4a4a" stroke-width="0.5" fill="none"/>
<path d="M-0.2 0V-67" stroke="#444" stroke-width="0.6" fill="none"/>
<path d="M0.1 -9.57h1.6M0.1 -19.14h1.6M0.1 -28.71h1.6M0.1 -38.29h1.6M0.1 -47.86h1.6M0.1 -57.43h1.6" stroke="#666" stroke-width="0.45" fill="none"/>
<text class="p" x="-1.1" y="2.15" text-anchor="end">0%</text>
<text class="p" x="-1.1" y="-7.42" text-anchor="end">3%</text>
<text class="p" x="-1.1" y="-16.99" text-anchor="end">6%</text>
<text class="p" x="-1.1" y="-26.56" text-anchor="end">9%</text>
<text class="p" x="-1.1" y="-36.14" text-anchor="end">12%</text>
<text class="p" x="-1.1" y="-45.71" text-anchor="end">15%</text>
<text class="p" x="-1.1" y="-55.28" text-anchor="end">18%</text>
<text class="p" x="-1.1" y="-64.85" text-anchor="end">21%</text>
<text class="d" x="0.3" y="-71.55" text-anchor="middle">N</text>
<text class="d" x="27.2" y="-66.35" text-anchor="start">NNE</text>
<text class="d" x="49.5" y="-51.35" text-anchor="start">NE</text>
<text class="d" x="65.2" y="-28.35" text-anchor="start">ENE</text>
<text class="d" x="70.2" y="3.25" text-anchor="start">E</text>
<text class="d" x="65.2" y="34.75" text-anchor="start">ESE</text>
<text class="d" x="49.5" y="57.65" text-anchor="start">SE</text>
<text class="d" x="27.2" y="72.65" text-anchor="start">SSE</text>
<text class="d" x="0.3" y="78.15" text-anchor="middle">S</text>
<text class="d" x="-26.8" y="72.65" text-anchor="end">SSW</text>
<text class="d" x="-49.8" y="57.65" text-anchor="end">SW</text>
<text class="d" x="-64.8" y="34.75" text-anchor="end">WSW</text>
<text class="d" x="-69.8" y="3.25" text-anchor="end">W</text>
<text class="d" x="-64.8" y="-28.55" text-anchor="end">WNW</text>
<text class="d" x="-49.8" y="-50.95" text-anchor="end">NW</text>
<text class="d" x="-26.8" y="-66.05" text-anchor="end">NNW</text>
</g>
<path d="M0 0L-0.62 -6.29A6.32 6.32 0 0 1 0.62 -6.29Z" fill="#0b79c9" stroke="#151515" stroke-width="0.33" stroke-linejoin="round"/>
<path d="M-0.62 -6.29L-0.98 -9.91A9.96 9.96 0 0 1 0.98 -9.91L0.62 -6.29A6.32 6.32 0 0 0 -0.62 -6.29Z" fill="#ff6a14" stroke="#151515" stroke-width="0.33" stroke-linejoin="round"/>
<path d="M-0.98 -9.91L-1.18 -11.96A12.02 12.02 0 0 1 1.18 -11.96L0.98 -9.91A9.96 9.96 0 0 0 -0.98 -9.91Z" fill="#8b84cc" stroke="#151515" stroke-width="0.33" stroke-linejoin="round"/>
<path d="M-1.18 -11.96L-1.25 -12.71A12.77 12.77 0 0 1 1.25 -12.71L1.18 -11.96A12.02 12.02 0 0 0 -1.18 -11.96Z" fill="#ff5c66" stroke="#151515" stroke-width="0.33" stroke-linejoin="round"/>
<path d="M0 0L1.38 -4.54A4.74 4.74 0 0 1 2.24 -4.18Z" fill="#0b79c9" stroke="#151515" stroke-width="0.33" stroke-linejoin="round"/>
<path d="M1.38 -4.54L2.39 -7.87A8.22 8.22 0 0 1 3.88 -7.25L2.24 -4.18A4.74 4.74 0 0 0 1.38 -4.54Z" fill="#ff6a14" stroke="#151515" stroke-width="0.33" stroke-linejoin="round"/>
<path d="M2.39 -7.87L4.31 -14.22A14.86 14.86 0 0 1 7.01 -13.11L3.88 -7.25A8.22 8.22 0 0 0 2.39 -7.87Z" fill="#ffd800" stroke="#151515" stroke-width="0.33" stroke-linejoin="round"/>
<path d="M4.31 -14.22L5.05 -16.64A17.39 17.39 0 0 1 8.2 -15.34L7.01 -13.11A14.86 14.86 0 0 0 4.31 -14.22Z" fill="#8b84cc" stroke="#151515" stroke-width="0.33" stroke-linejoin="round"/>
<path d="M5.05 -16.64L5.51 -18.15A18.97 18.97 0 0 1 8.94 -16.73L8.2 -15.34A17.39 17.39 0 0 0 5.05 -16.64Z" fill="#ff5c66" stroke="#151515" stroke-width="0.33" stroke-linejoin="round"/>
<path d="M0 0L3.01 -3.67A4.74 4.74 0 0 1 3.67 -3.01Z" fill="#0b79c9" stroke="#151515" stroke-width="0.33" stroke-linejoin="round"/>
<path d="M3.01 -3.67L4.41 -5.38A6.96 6.96 0 0 1 5.38 -4.41L3.67 -3.01A4.74 4.74 0 0 0 3.01 -3.67Z" fill="#ff6a14" stroke="#151515" stroke-width="0.33" stroke-linejoin="round"/>
<path d="M4.41 -5.38L6.02 -7.33A9.49 9.49 0 0 1 7.33 -6.02L5.38 -4.41A6.96 6.96 0 0 0 4.41 -5.38Z" fill="#ffd800" stroke="#151515" stroke-width="0.33" stroke-linejoin="round"/>
<path d="M6.02 -7.33L7.02 -8.55A11.07 11.07 0 0 1 8.55 -7.02L7.33 -6.02A9.49 9.49 0 0 0 6.02 -7.33Z" fill="#8b84cc" stroke="#151515" stroke-width="0.33" stroke-linejoin="round"/>
<path d="M0 0L6.33 -3.38A7.18 7.18 0 0 1 6.87 -2.08Z" fill="#0b79c9" stroke="#151515" stroke-width="0.33" stroke-linejoin="round"/>
<path d="M6.33 -3.38L16.03 -8.57A18.18 18.18 0 0 1 17.4 -5.28L6.87 -2.08A7.18 7.18 0 0 0 6.33 -3.38Z" fill="#ff6a14" stroke="#151515" stroke-width="0.33" stroke-linejoin="round"/>
<path d="M16.03 -8.57L19.24 -10.28A21.82 21.82 0 0 1 20.88 -6.33L17.4 -5.28A18.18 18.18 0 0 0 16.03 -8.57Z" fill="#ffd800" stroke="#151515" stroke-width="0.33" stroke-linejoin="round"/>
<path d="M0 0L9.44 -0.93A9.49 9.49 0 0 1 9.44 0.93Z" fill="#0b79c9" stroke="#151515" stroke-width="0.33" stroke-linejoin="round"/>
<path d="M9.44 -0.93L26.12 -2.57A26.24 26.24 0 0 1 26.12 2.57L9.44 0.93A9.49 9.49 0 0 0 9.44 -0.93Z" fill="#ff6a14" stroke="#151515" stroke-width="0.33" stroke-linejoin="round"/>
<path d="M26.12 -2.57L38.7 -3.81A38.89 38.89 0 0 1 38.7 3.81L26.12 2.57A26.24 26.24 0 0 0 26.12 -2.57Z" fill="#ffd800" stroke="#151515" stroke-width="0.33" stroke-linejoin="round"/>
<path d="M0 0L4.54 1.38A4.74 4.74 0 0 1 4.18 2.24Z" fill="#0b79c9" stroke="#151515" stroke-width="0.33" stroke-linejoin="round"/>
<path d="M4.54 1.38L13.31 4.04A13.91 13.91 0 0 1 12.27 6.56L4.18 2.24A4.74 4.74 0 0 0 4.54 1.38Z" fill="#ff6a14" stroke="#151515" stroke-width="0.33" stroke-linejoin="round"/>
<path d="M13.31 4.04L14.52 4.41A15.18 15.18 0 0 1 13.39 7.15L12.27 6.56A13.91 13.91 0 0 0 13.31 4.04Z" fill="#ffd800" stroke="#151515" stroke-width="0.33" stroke-linejoin="round"/>
<path d="M0 0L3.67 3.01A4.74 4.74 0 0 1 3.01 3.67Z" fill="#0b79c9" stroke="#151515" stroke-width="0.33" stroke-linejoin="round"/>
<path d="M3.67 3.01L8.55 7.02A11.07 11.07 0 0 1 7.02 8.55L3.01 3.67A4.74 4.74 0 0 0 3.67 3.01Z" fill="#ff6a14" stroke="#151515" stroke-width="0.33" stroke-linejoin="round"/>
<path d="M8.55 7.02L9.53 7.82A12.33 12.33 0 0 1 7.82 9.53L7.02 8.55A11.07 11.07 0 0 0 8.55 7.02Z" fill="#ffd800" stroke="#151515" stroke-width="0.33" stroke-linejoin="round"/>
<path d="M0 0L1.94 3.63A4.11 4.11 0 0 1 1.19 3.93Z" fill="#0b79c9" stroke="#151515" stroke-width="0.33" stroke-linejoin="round"/>
<path d="M1.94 3.63L5.07 9.48A10.75 10.75 0 0 1 3.12 10.29L1.19 3.93A4.11 4.11 0 0 0 1.94 3.63Z" fill="#ff6a14" stroke="#151515" stroke-width="0.33" stroke-linejoin="round"/>
<path d="M5.07 9.48L6.56 12.27A13.91 13.91 0 0 1 4.04 13.31L3.12 10.29A10.75 10.75 0 0 0 5.07 9.48Z" fill="#ffd800" stroke="#151515" stroke-width="0.33" stroke-linejoin="round"/>
<path d="M0 0L0.4 4.09A4.11 4.11 0 0 1 -0.4 4.09Z" fill="#0b79c9" stroke="#151515" stroke-width="0.33" stroke-linejoin="round"/>
<path d="M0.4 4.09L1.08 11.01A11.07 11.07 0 0 1 -1.08 11.01L-0.4 4.09A4.11 4.11 0 0 0 0.4 4.09Z" fill="#ff6a14" stroke="#151515" stroke-width="0.33" stroke-linejoin="round"/>
<path d="M1.08 11.01L1.38 13.97A14.04 14.04 0 0 1 -1.38 13.97L-1.08 11.01A11.07 11.07 0 0 0 1.08 11.01Z" fill="#ffd800" stroke="#151515" stroke-width="0.33" stroke-linejoin="round"/>
<path d="M0 0L-1.1 3.63A3.79 3.79 0 0 1 -1.79 3.35Z" fill="#0b79c9" stroke="#151515" stroke-width="0.33" stroke-linejoin="round"/>
<path d="M-1.1 3.63L-2.29 7.56A7.9 7.9 0 0 1 -3.73 6.97L-1.79 3.35A3.79 3.79 0 0 0 -1.1 3.63Z" fill="#ff6a14" stroke="#151515" stroke-width="0.33" stroke-linejoin="round"/>
<path d="M-2.29 7.56L-3.44 11.35A11.86 11.86 0 0 1 -5.59 10.46L-3.73 6.97A7.9 7.9 0 0 0 -2.29 7.56Z" fill="#ffd800" stroke="#151515" stroke-width="0.33" stroke-linejoin="round"/>
<path d="M0 0L-3.01 3.67A4.74 4.74 0 0 1 -3.67 3.01Z" fill="#0b79c9" stroke="#151515" stroke-width="0.33" stroke-linejoin="round"/>
<path d="M-3.01 3.67L-5.82 7.09A9.17 9.17 0 0 1 -7.09 5.82L-3.67 3.01A4.74 4.74 0 0 0 -3.01 3.67Z" fill="#ff6a14" stroke="#151515" stroke-width="0.33" stroke-linejoin="round"/>
<path d="M-5.82 7.09L-6.94 8.46A10.94 10.94 0 0 1 -8.46 6.94L-7.09 5.82A9.17 9.17 0 0 0 -5.82 7.09Z" fill="#8b84cc" stroke="#151515" stroke-width="0.33" stroke-linejoin="round"/>
<path d="M0 0L-5.16 2.76A5.85 5.85 0 0 1 -5.6 1.7Z" fill="#0b79c9" stroke="#151515" stroke-width="0.33" stroke-linejoin="round"/>
<path d="M-5.16 2.76L-14.5 7.75A16.44 16.44 0 0 1 -15.73 4.77L-5.6 1.7A5.85 5.85 0 0 0 -5.16 2.76Z" fill="#ff6a14" stroke="#151515" stroke-width="0.33" stroke-linejoin="round"/>
<path d="M-14.5 7.75L-23.7 12.67A26.88 26.88 0 0 1 -25.72 7.8L-15.73 4.77A16.44 16.44 0 0 0 -14.5 7.75Z" fill="#ffd800" stroke="#151515" stroke-width="0.33" stroke-linejoin="round"/>
<path d="M-23.7 12.67L-26.91 14.38A30.51 30.51 0 0 1 -29.2 8.86L-25.72 7.8A26.88 26.88 0 0 0 -23.7 12.67Z" fill="#8b84cc" stroke="#151515" stroke-width="0.33" stroke-linejoin="round"/>
<path d="M-26.91 14.38L-29 15.5A32.88 32.88 0 0 1 -31.47 9.55L-29.2 8.86A30.51 30.51 0 0 0 -26.91 14.38Z" fill="#ff5c66" stroke="#151515" stroke-width="0.33" stroke-linejoin="round"/>
<path d="M0 0L-5.98 0.59A6.01 6.01 0 0 1 -5.98 -0.59Z" fill="#0b79c9" stroke="#151515" stroke-width="0.33" stroke-linejoin="round"/>
<path d="M-5.98 0.59L-28.95 2.85A29.09 29.09 0 0 1 -28.95 -2.85L-5.98 -0.59A6.01 6.01 0 0 0 -5.98 0.59Z" fill="#ff6a14" stroke="#151515" stroke-width="0.33" stroke-linejoin="round"/>
<path d="M-28.95 2.85L-39.02 3.84A39.21 39.21 0 0 1 -39.02 -3.84L-28.95 -2.85A29.09 29.09 0 0 0 -28.95 2.85Z" fill="#ffd800" stroke="#151515" stroke-width="0.33" stroke-linejoin="round"/>
<path d="M-39.02 3.84L-42.79 4.21A43 43 0 0 1 -42.79 -4.21L-39.02 -3.84A39.21 39.21 0 0 0 -39.02 3.84Z" fill="#8b84cc" stroke="#151515" stroke-width="0.33" stroke-linejoin="round"/>
<path d="M-42.79 4.21L-44.68 4.4A44.9 44.9 0 0 1 -44.68 -4.4L-42.79 -4.21A43 43 0 0 0 -42.79 4.21Z" fill="#82d4b4" stroke="#151515" stroke-width="0.33" stroke-linejoin="round"/>
<path d="M0 0L-4.54 -1.38A4.74 4.74 0 0 1 -4.18 -2.24Z" fill="#0b79c9" stroke="#151515" stroke-width="0.33" stroke-linejoin="round"/>
<path d="M-4.54 -1.38L-11.98 -3.63A12.52 12.52 0 0 1 -11.04 -5.9L-4.18 -2.24A4.74 4.74 0 0 0 -4.54 -1.38Z" fill="#ff6a14" stroke="#151515" stroke-width="0.33" stroke-linejoin="round"/>
<path d="M-11.98 -3.63L-17.13 -5.2A17.9 17.9 0 0 1 -15.78 -8.44L-11.04 -5.9A12.52 12.52 0 0 0 -11.98 -3.63Z" fill="#ffd800" stroke="#151515" stroke-width="0.33" stroke-linejoin="round"/>
<path d="M-17.13 -5.2L-20.51 -6.22A21.44 21.44 0 0 1 -18.91 -10.11L-15.78 -8.44A17.9 17.9 0 0 0 -17.13 -5.2Z" fill="#8b84cc" stroke="#151515" stroke-width="0.33" stroke-linejoin="round"/>
<path d="M0 0L-4.4 -3.61A5.69 5.69 0 0 1 -3.61 -4.4Z" fill="#0b79c9" stroke="#151515" stroke-width="0.33" stroke-linejoin="round"/>
<path d="M-4.4 -3.61L-9.78 -8.02A12.65 12.65 0 0 1 -8.02 -9.78L-3.61 -4.4A5.69 5.69 0 0 0 -4.4 -3.61Z" fill="#ff6a14" stroke="#151515" stroke-width="0.33" stroke-linejoin="round"/>
<path d="M-9.78 -8.02L-11.49 -9.43A14.86 14.86 0 0 1 -9.43 -11.49L-8.02 -9.78A12.65 12.65 0 0 0 -9.78 -8.02Z" fill="#ffd800" stroke="#151515" stroke-width="0.33" stroke-linejoin="round"/>
<path d="M-11.49 -9.43L-12.37 -10.15A16 16 0 0 1 -10.15 -12.37L-9.43 -11.49A14.86 14.86 0 0 0 -11.49 -9.43Z" fill="#8b84cc" stroke="#151515" stroke-width="0.33" stroke-linejoin="round"/>
<path d="M0 0L-3.43 -6.41A7.27 7.27 0 0 1 -2.11 -6.96Z" fill="#0b79c9" stroke="#151515" stroke-width="0.33" stroke-linejoin="round"/>
<path d="M-3.43 -6.41L-7.69 -14.39A16.32 16.32 0 0 1 -4.74 -15.61L-2.11 -6.96A7.27 7.27 0 0 0 -3.43 -6.41Z" fill="#ff6a14" stroke="#151515" stroke-width="0.33" stroke-linejoin="round"/>
<path d="M-7.69 -14.39L-9.24 -17.29A19.6 19.6 0 0 1 -5.69 -18.76L-4.74 -15.61A16.32 16.32 0 0 0 -7.69 -14.39Z" fill="#8b84cc" stroke="#151515" stroke-width="0.33" stroke-linejoin="round"/>
<path d="M-9.24 -17.29L-10.09 -18.88A21.41 21.41 0 0 1 -6.21 -20.48L-5.69 -18.76A19.6 19.6 0 0 0 -9.24 -17.29Z" fill="#ff5c66" stroke="#151515" stroke-width="0.33" stroke-linejoin="round"/>
<circle r="1.5" fill="#111" fill-opacity="0.85"/>
<text class="c" x="0.3" y="90.5" text-anchor="middle">c</text><text class="q" x="-2.4" y="90.1" text-anchor="end">（</text><text class="q" x="3.6" y="90.1" text-anchor="start">）</text>
</g>
<g transform="translate(178.4 204)">
<rect x="0" y="0" width="31.9" height="60.6" fill="#fff" stroke="#8a8a8a" stroke-width="0.5"/>
<rect x="0.7" y="1" width="15" height="7.6" fill="#82d4b4" stroke="#8f8f8f" stroke-width="0.5"/>
<text class="l" x="18.4" y="7.3">&gt;= 6</text>
<rect x="0.7" y="9.55" width="15" height="7.6" fill="#ff5c66" stroke="#8f8f8f" stroke-width="0.5"/>
<text class="l" x="18.4" y="15.85">5–6</text>
<rect x="0.7" y="18.1" width="15" height="7.6" fill="#8b84cc" stroke="#8f8f8f" stroke-width="0.5"/>
<text class="l" x="18.4" y="24.4">4–5</text>
<rect x="0.7" y="26.65" width="15" height="7.6" fill="#ffd800" stroke="#8f8f8f" stroke-width="0.5"/>
<text class="l" x="18.4" y="32.95">3–4</text>
<rect x="0.7" y="35.2" width="15" height="7.6" fill="#ff6a14" stroke="#8f8f8f" stroke-width="0.5"/>
<text class="l" x="18.4" y="41.5">2–3</text>
<rect x="0.7" y="43.75" width="15" height="7.6" fill="#0b79c9" stroke="#8f8f8f" stroke-width="0.5"/>
<text class="l" x="18.4" y="50.05">1–2</text>
<rect x="0.7" y="52.3" width="15" height="7.6" fill="#3fb559" stroke="#8f8f8f" stroke-width="0.5"/>
<text class="l" x="18.4" y="58.6">0–1</text>
</g>
<text class="t" x="153.6" y="201.6">wind speed/m·s<tspan font-size="5.4" dy="-3.2">−1</tspan></text>
<g transform="translate(374.8 268.9)">
<g>
<circle r="9.57" fill="none" stroke="#d2d2d2" stroke-width="0.5"/>
<circle r="19.14" fill="none" stroke="#d2d2d2" stroke-width="0.5"/>
<circle r="28.71" fill="none" stroke="#d2d2d2" stroke-width="0.5"/>
<circle r="38.29" fill="none" stroke="#d2d2d2" stroke-width="0.5"/>
<circle r="47.86" fill="none" stroke="#d2d2d2" stroke-width="0.5"/>
<circle r="57.43" fill="none" stroke="#d2d2d2" stroke-width="0.5"/>
<path d="M0 0L0 -67M0 0L25.64 -61.9M0 0L47.38 -47.38M0 0L61.9 -25.64M0 0L67 -0M0 0L61.9 25.64M0 0L47.38 47.38M0 0L25.64 61.9M0 0L0 67M0 0L-25.64 61.9M0 0L-47.38 47.38M0 0L-61.9 25.64M0 0L-67 0M0 0L-61.9 -25.64M0 0L-47.38 -47.38M0 0L-25.64 -61.9" stroke="#d2d2d2" stroke-width="0.5" fill="none"/>
<circle r="67" fill="none" stroke="#4a4a4a" stroke-width="0.6"/>
<path d="M0 -67L0 -64.8M13.07 -65.71L12.86 -64.63M25.64 -61.9L24.8 -59.87M37.22 -55.71L36.61 -54.79M47.38 -47.38L45.82 -45.82M55.71 -37.22L54.79 -36.61M61.9 -25.64L59.87 -24.8M65.71 -13.07L64.63 -12.86M67 -0L64.8 -0M65.71 13.07L64.63 12.86M61.9 25.64L59.87 24.8M55.71 37.22L54.79 36.61M47.38 47.38L45.82 45.82M37.22 55.71L36.61 54.79M25.64 61.9L24.8 59.87M13.07 65.71L12.86 64.63M0 67L0 64.8M-13.07 65.71L-12.86 64.63M-25.64 61.9L-24.8 59.87M-37.22 55.71L-36.61 54.79M-47.38 47.38L-45.82 45.82M-55.71 37.22L-54.79 36.61M-61.9 25.64L-59.87 24.8M-65.71 13.07L-64.63 12.86M-67 0L-64.8 0M-65.71 -13.07L-64.63 -12.86M-61.9 -25.64L-59.87 -24.8M-55.71 -37.22L-54.79 -36.61M-47.38 -47.38L-45.82 -45.82M-37.22 -55.71L-36.61 -54.79M-25.64 -61.9L-24.8 -59.87M-13.07 -65.71L-12.86 -64.63" stroke="#4a4a4a" stroke-width="0.5" fill="none"/>
<path d="M-0.2 0V-67" stroke="#444" stroke-width="0.6" fill="none"/>
<path d="M0.1 -9.57h1.6M0.1 -19.14h1.6M0.1 -28.71h1.6M0.1 -38.29h1.6M0.1 -47.86h1.6M0.1 -57.43h1.6" stroke="#666" stroke-width="0.45" fill="none"/>
<text class="p" x="-1.1" y="2.15" text-anchor="end">0%</text>
<text class="p" x="-1.1" y="-7.42" text-anchor="end">3%</text>
<text class="p" x="-1.1" y="-16.99" text-anchor="end">6%</text>
<text class="p" x="-1.1" y="-26.56" text-anchor="end">9%</text>
<text class="p" x="-1.1" y="-36.14" text-anchor="end">12%</text>
<text class="p" x="-1.1" y="-45.71" text-anchor="end">15%</text>
<text class="p" x="-1.1" y="-55.28" text-anchor="end">18%</text>
<text class="p" x="-1.1" y="-64.85" text-anchor="end">21%</text>
<text class="d" x="0.3" y="-71.55" text-anchor="middle">N</text>
<text class="d" x="27.2" y="-66.35" text-anchor="start">NNE</text>
<text class="d" x="49.5" y="-51.35" text-anchor="start">NE</text>
<text class="d" x="65.2" y="-28.35" text-anchor="start">ENE</text>
<text class="d" x="70.2" y="3.25" text-anchor="start">E</text>
<text class="d" x="65.2" y="34.75" text-anchor="start">ESE</text>
<text class="d" x="49.5" y="57.65" text-anchor="start">SE</text>
<text class="d" x="27.2" y="72.65" text-anchor="start">SSE</text>
<text class="d" x="0.3" y="78.15" text-anchor="middle">S</text>
<text class="d" x="-26.8" y="72.65" text-anchor="end">SSW</text>
<text class="d" x="-49.8" y="57.65" text-anchor="end">SW</text>
<text class="d" x="-64.8" y="34.75" text-anchor="end">WSW</text>
<text class="d" x="-69.8" y="3.25" text-anchor="end">W</text>
<text class="d" x="-64.8" y="-28.55" text-anchor="end">WNW</text>
<text class="d" x="-49.8" y="-50.95" text-anchor="end">NW</text>
<text class="d" x="-26.8" y="-66.05" text-anchor="end">NNW</text>
</g>
<path d="M0 0L-0.46 -4.72A4.74 4.74 0 0 1 0.46 -4.72Z" fill="#0b79c9" stroke="#151515" stroke-width="0.33" stroke-linejoin="round"/>
<path d="M-0.46 -4.72L-0.65 -6.61A6.64 6.64 0 0 1 0.65 -6.61L0.46 -4.72A4.74 4.74 0 0 0 -0.46 -4.72Z" fill="#ff6a14" stroke="#151515" stroke-width="0.33" stroke-linejoin="round"/>
<path d="M0 0L2.11 -6.96A7.27 7.27 0 0 1 3.43 -6.41Z" fill="#0b79c9" stroke="#151515" stroke-width="0.33" stroke-linejoin="round"/>
<path d="M2.11 -6.96L2.75 -9.08A9.49 9.49 0 0 1 4.47 -8.37L3.43 -6.41A7.27 7.27 0 0 0 2.11 -6.96Z" fill="#ff6a14" stroke="#151515" stroke-width="0.33" stroke-linejoin="round"/>
<path d="M0 0L4.15 -5.06A6.55 6.55 0 0 1 5.06 -4.15Z" fill="#0b79c9" stroke="#151515" stroke-width="0.33" stroke-linejoin="round"/>
<path d="M0 0L7.53 -4.02A8.54 8.54 0 0 1 8.17 -2.48Z" fill="#0b79c9" stroke="#151515" stroke-width="0.33" stroke-linejoin="round"/>
<path d="M7.53 -4.02L12.94 -6.92A14.67 14.67 0 0 1 14.04 -4.26L8.17 -2.48A8.54 8.54 0 0 0 7.53 -4.02Z" fill="#ff6a14" stroke="#151515" stroke-width="0.33" stroke-linejoin="round"/>
<path d="M12.94 -6.92L15.06 -8.05A17.07 17.07 0 0 1 16.34 -4.96L14.04 -4.26A14.67 14.67 0 0 0 12.94 -6.92Z" fill="#8b84cc" stroke="#151515" stroke-width="0.33" stroke-linejoin="round"/>
<path d="M0 0L10.7 -1.05A10.75 10.75 0 0 1 10.7 1.05Z" fill="#0b79c9" stroke="#151515" stroke-width="0.33" stroke-linejoin="round"/>
<path d="M10.7 -1.05L26.43 -2.6A26.56 26.56 0 0 1 26.43 2.6L10.7 1.05A10.75 10.75 0 0 0 10.7 -1.05Z" fill="#ff6a14" stroke="#151515" stroke-width="0.33" stroke-linejoin="round"/>
<path d="M26.43 -2.6L31.78 -3.13A31.94 31.94 0 0 1 31.78 3.13L26.43 2.6A26.56 26.56 0 0 0 26.43 -2.6Z" fill="#ffd800" stroke="#151515" stroke-width="0.33" stroke-linejoin="round"/>
<path d="M31.78 -3.13L32.95 -3.24A33.11 33.11 0 0 1 32.95 3.24L31.78 3.13A31.94 31.94 0 0 0 31.78 -3.13Z" fill="#8b84cc" stroke="#151515" stroke-width="0.33" stroke-linejoin="round"/>
<path d="M32.95 -3.24L34.17 -3.37A34.34 34.34 0 0 1 34.17 3.37L32.95 3.24A33.11 33.11 0 0 0 32.95 -3.24Z" fill="#ff5c66" stroke="#151515" stroke-width="0.33" stroke-linejoin="round"/>
<path d="M34.17 -3.37L35.87 -3.53A36.05 36.05 0 0 1 35.87 3.53L34.17 3.37A34.34 34.34 0 0 0 34.17 -3.37Z" fill="#82d4b4" stroke="#151515" stroke-width="0.33" stroke-linejoin="round"/>
<path d="M0 0L8.17 2.48A8.54 8.54 0 0 1 7.53 4.02Z" fill="#0b79c9" stroke="#151515" stroke-width="0.33" stroke-linejoin="round"/>
<path d="M8.17 2.48L21.97 6.66A22.96 22.96 0 0 1 20.24 10.82L7.53 4.02A8.54 8.54 0 0 0 8.17 2.48Z" fill="#ff6a14" stroke="#151515" stroke-width="0.33" stroke-linejoin="round"/>
<path d="M21.97 6.66L25.93 7.87A27.1 27.1 0 0 1 23.9 12.77L20.24 10.82A22.96 22.96 0 0 0 21.97 6.66Z" fill="#ffd800" stroke="#151515" stroke-width="0.33" stroke-linejoin="round"/>
<path d="M25.93 7.87L27.11 8.22A28.33 28.33 0 0 1 24.99 13.35L23.9 12.77A27.1 27.1 0 0 0 25.93 7.87Z" fill="#8b84cc" stroke="#151515" stroke-width="0.33" stroke-linejoin="round"/>
<path d="M0 0L4.89 4.01A6.32 6.32 0 0 1 4.01 4.89Z" fill="#0b79c9" stroke="#151515" stroke-width="0.33" stroke-linejoin="round"/>
<path d="M4.89 4.01L7.33 6.02A9.49 9.49 0 0 1 6.02 7.33L4.01 4.89A6.32 6.32 0 0 0 4.89 4.01Z" fill="#ff6a14" stroke="#151515" stroke-width="0.33" stroke-linejoin="round"/>
<path d="M7.33 6.02L9.14 7.5A11.83 11.83 0 0 1 7.5 9.14L6.02 7.33A9.49 9.49 0 0 0 7.33 6.02Z" fill="#ffd800" stroke="#151515" stroke-width="0.33" stroke-linejoin="round"/>
<path d="M0 0L3.8 7.11A8.06 8.06 0 0 1 2.34 7.72Z" fill="#0b79c9" stroke="#151515" stroke-width="0.33" stroke-linejoin="round"/>
<path d="M3.8 7.11L5.51 10.32A11.7 11.7 0 0 1 3.4 11.2L2.34 7.72A8.06 8.06 0 0 0 3.8 7.11Z" fill="#ff6a14" stroke="#151515" stroke-width="0.33" stroke-linejoin="round"/>
<path d="M5.51 10.32L6.11 11.43A12.96 12.96 0 0 1 3.76 12.41L3.4 11.2A11.7 11.7 0 0 0 5.51 10.32Z" fill="#ffd800" stroke="#151515" stroke-width="0.33" stroke-linejoin="round"/>
<path d="M0 0L0.46 4.72A4.74 4.74 0 0 1 -0.46 4.72Z" fill="#0b79c9" stroke="#151515" stroke-width="0.33" stroke-linejoin="round"/>
<path d="M0.46 4.72L0.82 8.37A8.41 8.41 0 0 1 -0.82 8.37L-0.46 4.72A4.74 4.74 0 0 0 0.46 4.72Z" fill="#ff6a14" stroke="#151515" stroke-width="0.33" stroke-linejoin="round"/>
<path d="M0 0L-1.38 4.54A4.74 4.74 0 0 1 -2.24 4.18Z" fill="#0b79c9" stroke="#151515" stroke-width="0.33" stroke-linejoin="round"/>
<path d="M-1.38 4.54L-3.67 12.1A12.65 12.65 0 0 1 -5.96 11.15L-2.24 4.18A4.74 4.74 0 0 0 -1.38 4.54Z" fill="#ff6a14" stroke="#151515" stroke-width="0.33" stroke-linejoin="round"/>
<path d="M-3.67 12.1L-3.85 12.71A13.28 13.28 0 0 1 -6.26 11.71L-5.96 11.15A12.65 12.65 0 0 0 -3.67 12.1Z" fill="#ffd800" stroke="#151515" stroke-width="0.33" stroke-linejoin="round"/>
<path d="M0 0L-4.81 5.87A7.59 7.59 0 0 1 -5.87 4.81Z" fill="#0b79c9" stroke="#151515" stroke-width="0.33" stroke-linejoin="round"/>
<path d="M-4.81 5.87L-13.64 16.62A21.5 21.5 0 0 1 -16.62 13.64L-5.87 4.81A7.59 7.59 0 0 0 -4.81 5.87Z" fill="#ff6a14" stroke="#151515" stroke-width="0.33" stroke-linejoin="round"/>
<path d="M-13.64 16.62L-16.45 20.04A25.93 25.93 0 0 1 -20.04 16.45L-16.62 13.64A21.5 21.5 0 0 0 -13.64 16.62Z" fill="#ffd800" stroke="#151515" stroke-width="0.33" stroke-linejoin="round"/>
<path d="M0 0L-13.83 7.39A15.68 15.68 0 0 1 -15.01 4.55Z" fill="#0b79c9" stroke="#151515" stroke-width="0.33" stroke-linejoin="round"/>
<path d="M-13.83 7.39L-25.77 13.77A29.22 29.22 0 0 1 -27.96 8.48L-15.01 4.55A15.68 15.68 0 0 0 -13.83 7.39Z" fill="#ff6a14" stroke="#151515" stroke-width="0.33" stroke-linejoin="round"/>
<path d="M-25.77 13.77L-35.3 18.87A40.03 40.03 0 0 1 -38.31 11.62L-27.96 8.48A29.22 29.22 0 0 0 -25.77 13.77Z" fill="#ffd800" stroke="#151515" stroke-width="0.33" stroke-linejoin="round"/>
<path d="M-35.3 18.87L-37.37 19.97A42.37 42.37 0 0 1 -40.55 12.3L-38.31 11.62A40.03 40.03 0 0 0 -35.3 18.87Z" fill="#8b84cc" stroke="#151515" stroke-width="0.33" stroke-linejoin="round"/>
<path d="M-37.37 19.97L-39.04 20.87A44.27 44.27 0 0 1 -42.36 12.85L-40.55 12.3A42.37 42.37 0 0 0 -37.37 19.97Z" fill="#ff5c66" stroke="#151515" stroke-width="0.33" stroke-linejoin="round"/>
<path d="M0 0L-11.64 1.15A11.7 11.7 0 0 1 -11.64 -1.15Z" fill="#0b79c9" stroke="#151515" stroke-width="0.33" stroke-linejoin="round"/>
<path d="M-11.64 1.15L-28.01 2.76A28.14 28.14 0 0 1 -28.01 -2.76L-11.64 -1.15A11.7 11.7 0 0 0 -11.64 1.15Z" fill="#ff6a14" stroke="#151515" stroke-width="0.33" stroke-linejoin="round"/>
<path d="M-28.01 2.76L-34.61 3.41A34.78 34.78 0 0 1 -34.61 -3.41L-28.01 -2.76A28.14 28.14 0 0 0 -28.01 2.76Z" fill="#ffd800" stroke="#151515" stroke-width="0.33" stroke-linejoin="round"/>
<path d="M-34.61 3.41L-36.06 3.55A36.24 36.24 0 0 1 -36.06 -3.55L-34.61 -3.41A34.78 34.78 0 0 0 -34.61 3.41Z" fill="#8b84cc" stroke="#151515" stroke-width="0.33" stroke-linejoin="round"/>
<path d="M0 0L-11.32 -3.43A11.83 11.83 0 0 1 -10.43 -5.57Z" fill="#0b79c9" stroke="#151515" stroke-width="0.33" stroke-linejoin="round"/>
<path d="M-11.32 -3.43L-27.66 -8.39A28.9 28.9 0 0 1 -25.49 -13.62L-10.43 -5.57A11.83 11.83 0 0 0 -11.32 -3.43Z" fill="#ff6a14" stroke="#151515" stroke-width="0.33" stroke-linejoin="round"/>
<path d="M-27.66 -8.39L-30.26 -9.18A31.62 31.62 0 0 1 -27.89 -14.91L-25.49 -13.62A28.9 28.9 0 0 0 -27.66 -8.39Z" fill="#ffd800" stroke="#151515" stroke-width="0.33" stroke-linejoin="round"/>
<path d="M0 0L-6.6 -5.42A8.54 8.54 0 0 1 -5.42 -6.6Z" fill="#0b79c9" stroke="#151515" stroke-width="0.33" stroke-linejoin="round"/>
<path d="M-6.6 -5.42L-11 -9.03A14.23 14.23 0 0 1 -9.03 -11L-5.42 -6.6A8.54 8.54 0 0 0 -6.6 -5.42Z" fill="#ff6a14" stroke="#151515" stroke-width="0.33" stroke-linejoin="round"/>
<path d="M-11 -9.03L-12.22 -10.03A15.81 15.81 0 0 1 -10.03 -12.22L-9.03 -11A14.23 14.23 0 0 0 -11 -9.03Z" fill="#ffd800" stroke="#151515" stroke-width="0.33" stroke-linejoin="round"/>
<path d="M0 0L-2.68 -5.02A5.69 5.69 0 0 1 -1.65 -5.45Z" fill="#0b79c9" stroke="#151515" stroke-width="0.33" stroke-linejoin="round"/>
<path d="M-2.68 -5.02L-4.62 -8.64A9.8 9.8 0 0 1 -2.85 -9.38L-1.65 -5.45A5.69 5.69 0 0 0 -2.68 -5.02Z" fill="#ff6a14" stroke="#151515" stroke-width="0.33" stroke-linejoin="round"/>
<circle r="1.5" fill="#111" fill-opacity="0.85"/>
<text class="c" x="0.3" y="90.5" text-anchor="middle">d</text><text class="q" x="-2.4" y="90.1" text-anchor="end">（</text><text class="q" x="3.6" y="90.1" text-anchor="start">）</text>
</g>
<g transform="translate(459.2 204.9)">
<rect x="0" y="0" width="31.9" height="60.6" fill="#fff" stroke="#8a8a8a" stroke-width="0.5"/>
<rect x="0.7" y="1" width="15" height="7.6" fill="#82d4b4" stroke="#8f8f8f" stroke-width="0.5"/>
<text class="l" x="18.4" y="7.3">&gt;= 6</text>
<rect x="0.7" y="9.55" width="15" height="7.6" fill="#ff5c66" stroke="#8f8f8f" stroke-width="0.5"/>
<text class="l" x="18.4" y="15.85">5–6</text>
<rect x="0.7" y="18.1" width="15" height="7.6" fill="#8b84cc" stroke="#8f8f8f" stroke-width="0.5"/>
<text class="l" x="18.4" y="24.4">4–5</text>
<rect x="0.7" y="26.65" width="15" height="7.6" fill="#ffd800" stroke="#8f8f8f" stroke-width="0.5"/>
<text class="l" x="18.4" y="32.95">3–4</text>
<rect x="0.7" y="35.2" width="15" height="7.6" fill="#ff6a14" stroke="#8f8f8f" stroke-width="0.5"/>
<text class="l" x="18.4" y="41.5">2–3</text>
<rect x="0.7" y="43.75" width="15" height="7.6" fill="#0b79c9" stroke="#8f8f8f" stroke-width="0.5"/>
<text class="l" x="18.4" y="50.05">1–2</text>
<rect x="0.7" y="52.3" width="15" height="7.6" fill="#3fb559" stroke="#8f8f8f" stroke-width="0.5"/>
<text class="l" x="18.4" y="58.6">0–1</text>
</g>
<text class="t" x="435.2" y="201.8">wind speed/m·s<tspan font-size="5.4" dy="-3.2">−1</tspan></text>
<g transform="translate(92.4 453.6)">
<g>
<circle r="9.57" fill="none" stroke="#d2d2d2" stroke-width="0.5"/>
<circle r="19.14" fill="none" stroke="#d2d2d2" stroke-width="0.5"/>
<circle r="28.71" fill="none" stroke="#d2d2d2" stroke-width="0.5"/>
<circle r="38.29" fill="none" stroke="#d2d2d2" stroke-width="0.5"/>
<circle r="47.86" fill="none" stroke="#d2d2d2" stroke-width="0.5"/>
<circle r="57.43" fill="none" stroke="#d2d2d2" stroke-width="0.5"/>
<path d="M0 0L0 -67M0 0L25.64 -61.9M0 0L47.38 -47.38M0 0L61.9 -25.64M0 0L67 -0M0 0L61.9 25.64M0 0L47.38 47.38M0 0L25.64 61.9M0 0L0 67M0 0L-25.64 61.9M0 0L-47.38 47.38M0 0L-61.9 25.64M0 0L-67 0M0 0L-61.9 -25.64M0 0L-47.38 -47.38M0 0L-25.64 -61.9" stroke="#d2d2d2" stroke-width="0.5" fill="none"/>
<circle r="67" fill="none" stroke="#4a4a4a" stroke-width="0.6"/>
<path d="M0 -67L0 -64.8M13.07 -65.71L12.86 -64.63M25.64 -61.9L24.8 -59.87M37.22 -55.71L36.61 -54.79M47.38 -47.38L45.82 -45.82M55.71 -37.22L54.79 -36.61M61.9 -25.64L59.87 -24.8M65.71 -13.07L64.63 -12.86M67 -0L64.8 -0M65.71 13.07L64.63 12.86M61.9 25.64L59.87 24.8M55.71 37.22L54.79 36.61M47.38 47.38L45.82 45.82M37.22 55.71L36.61 54.79M25.64 61.9L24.8 59.87M13.07 65.71L12.86 64.63M0 67L0 64.8M-13.07 65.71L-12.86 64.63M-25.64 61.9L-24.8 59.87M-37.22 55.71L-36.61 54.79M-47.38 47.38L-45.82 45.82M-55.71 37.22L-54.79 36.61M-61.9 25.64L-59.87 24.8M-65.71 13.07L-64.63 12.86M-67 0L-64.8 0M-65.71 -13.07L-64.63 -12.86M-61.9 -25.64L-59.87 -24.8M-55.71 -37.22L-54.79 -36.61M-47.38 -47.38L-45.82 -45.82M-37.22 -55.71L-36.61 -54.79M-25.64 -61.9L-24.8 -59.87M-13.07 -65.71L-12.86 -64.63" stroke="#4a4a4a" stroke-width="0.5" fill="none"/>
<path d="M-0.2 0V-67" stroke="#444" stroke-width="0.6" fill="none"/>
<path d="M0.1 -9.57h1.6M0.1 -19.14h1.6M0.1 -28.71h1.6M0.1 -38.29h1.6M0.1 -47.86h1.6M0.1 -57.43h1.6" stroke="#666" stroke-width="0.45" fill="none"/>
<text class="p" x="-1.1" y="2.15" text-anchor="end">0%</text>
<text class="p" x="-1.1" y="-7.42" text-anchor="end">3%</text>
<text class="p" x="-1.1" y="-16.99" text-anchor="end">6%</text>
<text class="p" x="-1.1" y="-26.56" text-anchor="end">9%</text>
<text class="p" x="-1.1" y="-36.14" text-anchor="end">12%</text>
<text class="p" x="-1.1" y="-45.71" text-anchor="end">15%</text>
<text class="p" x="-1.1" y="-55.28" text-anchor="end">18%</text>
<text class="p" x="-1.1" y="-64.85" text-anchor="end">21%</text>
<text class="d" x="0.3" y="-71.55" text-anchor="middle">N</text>
<text class="d" x="27.2" y="-66.35" text-anchor="start">NNE</text>
<text class="d" x="49.5" y="-51.35" text-anchor="start">NE</text>
<text class="d" x="65.2" y="-28.35" text-anchor="start">ENE</text>
<text class="d" x="70.2" y="3.25" text-anchor="start">E</text>
<text class="d" x="65.2" y="34.75" text-anchor="start">ESE</text>
<text class="d" x="49.5" y="57.65" text-anchor="start">SE</text>
<text class="d" x="27.2" y="72.65" text-anchor="start">SSE</text>
<text class="d" x="0.3" y="78.15" text-anchor="middle">S</text>
<text class="d" x="-26.8" y="72.65" text-anchor="end">SSW</text>
<text class="d" x="-49.8" y="57.65" text-anchor="end">SW</text>
<text class="d" x="-64.8" y="34.75" text-anchor="end">WSW</text>
<text class="d" x="-69.8" y="3.25" text-anchor="end">W</text>
<text class="d" x="-64.8" y="-28.55" text-anchor="end">WNW</text>
<text class="d" x="-49.8" y="-50.95" text-anchor="end">NW</text>
<text class="d" x="-26.8" y="-66.05" text-anchor="end">NNW</text>
</g>
<path d="M0 0L-0.46 -4.72A4.74 4.74 0 0 1 0.46 -4.72Z" fill="#0b79c9" stroke="#151515" stroke-width="0.33" stroke-linejoin="round"/>
<path d="M-0.46 -4.72L-0.62 -6.29A6.32 6.32 0 0 1 0.62 -6.29L0.46 -4.72A4.74 4.74 0 0 0 -0.46 -4.72Z" fill="#ff6a14" stroke="#151515" stroke-width="0.33" stroke-linejoin="round"/>
<path d="M0 0L1.84 -6.05A6.32 6.32 0 0 1 2.98 -5.58Z" fill="#0b79c9" stroke="#151515" stroke-width="0.33" stroke-linejoin="round"/>
<path d="M1.84 -6.05L2.44 -8.05A8.41 8.41 0 0 1 3.96 -7.42L2.98 -5.58A6.32 6.32 0 0 0 1.84 -6.05Z" fill="#ff6a14" stroke="#151515" stroke-width="0.33" stroke-linejoin="round"/>
<path d="M0 0L3.01 -3.67A4.74 4.74 0 0 1 3.67 -3.01Z" fill="#0b79c9" stroke="#151515" stroke-width="0.33" stroke-linejoin="round"/>
<path d="M0 0L5.58 -2.98A6.32 6.32 0 0 1 6.05 -1.84Z" fill="#0b79c9" stroke="#151515" stroke-width="0.33" stroke-linejoin="round"/>
<path d="M5.58 -2.98L6.86 -3.67A7.78 7.78 0 0 1 7.44 -2.26L6.05 -1.84A6.32 6.32 0 0 0 5.58 -2.98Z" fill="#ff6a14" stroke="#151515" stroke-width="0.33" stroke-linejoin="round"/>
<path d="M0 0L15.32 -1.51A15.4 15.4 0 0 1 15.32 1.51Z" fill="#0b79c9" stroke="#151515" stroke-width="0.33" stroke-linejoin="round"/>
<path d="M15.32 -1.51L17.12 -1.69A17.2 17.2 0 0 1 17.12 1.69L15.32 1.51A15.4 15.4 0 0 0 15.32 -1.51Z" fill="#ff6a14" stroke="#151515" stroke-width="0.33" stroke-linejoin="round"/>
<path d="M17.12 -1.69L18.69 -1.84A18.78 18.78 0 0 1 18.69 1.84L17.12 1.69A17.2 17.2 0 0 0 17.12 -1.69Z" fill="#ffd800" stroke="#151515" stroke-width="0.33" stroke-linejoin="round"/>
<path d="M18.69 -1.84L19.51 -1.92A19.6 19.6 0 0 1 19.51 1.92L18.69 1.84A18.78 18.78 0 0 0 18.69 -1.84Z" fill="#ff5c66" stroke="#151515" stroke-width="0.33" stroke-linejoin="round"/>
<path d="M0 0L9.08 2.75A9.49 9.49 0 0 1 8.37 4.47Z" fill="#0b79c9" stroke="#151515" stroke-width="0.33" stroke-linejoin="round"/>
<path d="M9.08 2.75L10.89 3.3A11.38 11.38 0 0 1 10.04 5.37L8.37 4.47A9.49 9.49 0 0 0 9.08 2.75Z" fill="#ff6a14" stroke="#151515" stroke-width="0.33" stroke-linejoin="round"/>
<path d="M0 0L10.75 8.83A13.91 13.91 0 0 1 8.83 10.75Z" fill="#0b79c9" stroke="#151515" stroke-width="0.33" stroke-linejoin="round"/>
<path d="M10.75 8.83L12.71 10.43A16.44 16.44 0 0 1 10.43 12.71L8.83 10.75A13.91 13.91 0 0 0 10.75 8.83Z" fill="#ff6a14" stroke="#151515" stroke-width="0.33" stroke-linejoin="round"/>
<path d="M0 0L2.24 4.18A4.74 4.74 0 0 1 1.38 4.54Z" fill="#0b79c9" stroke="#151515" stroke-width="0.33" stroke-linejoin="round"/>
<path d="M0 0L0.87 8.81A8.85 8.85 0 0 1 -0.87 8.81Z" fill="#0b79c9" stroke="#151515" stroke-width="0.33" stroke-linejoin="round"/>
<path d="M0.87 8.81L1.01 10.29A10.34 10.34 0 0 1 -1.01 10.29L-0.87 8.81A8.85 8.85 0 0 0 0.87 8.81Z" fill="#ff6a14" stroke="#151515" stroke-width="0.33" stroke-linejoin="round"/>
<path d="M0 0L-2.85 9.38A9.8 9.8 0 0 1 -4.62 8.64Z" fill="#0b79c9" stroke="#151515" stroke-width="0.33" stroke-linejoin="round"/>
<path d="M-2.85 9.38L-5.23 17.25A18.02 18.02 0 0 1 -8.5 15.89L-4.62 8.64A9.8 9.8 0 0 0 -2.85 9.38Z" fill="#ff6a14" stroke="#151515" stroke-width="0.33" stroke-linejoin="round"/>
<path d="M-5.23 17.25L-5.69 18.76A19.6 19.6 0 0 1 -9.24 17.29L-8.5 15.89A18.02 18.02 0 0 0 -5.23 17.25Z" fill="#ffd800" stroke="#151515" stroke-width="0.33" stroke-linejoin="round"/>
<path d="M-5.69 18.76L-5.97 19.67A20.55 20.55 0 0 1 -9.69 18.13L-9.24 17.29A19.6 19.6 0 0 0 -5.69 18.76Z" fill="#8b84cc" stroke="#151515" stroke-width="0.33" stroke-linejoin="round"/>
<path d="M0 0L-6.42 7.82A10.12 10.12 0 0 1 -7.82 6.42Z" fill="#0b79c9" stroke="#151515" stroke-width="0.33" stroke-linejoin="round"/>
<path d="M-6.42 7.82L-13.24 16.13A20.87 20.87 0 0 1 -16.13 13.24L-7.82 6.42A10.12 10.12 0 0 0 -6.42 7.82Z" fill="#ff6a14" stroke="#151515" stroke-width="0.33" stroke-linejoin="round"/>
<path d="M-13.24 16.13L-17.25 21.02A27.19 27.19 0 0 1 -21.02 17.25L-16.13 13.24A20.87 20.87 0 0 0 -13.24 16.13Z" fill="#ffd800" stroke="#151515" stroke-width="0.33" stroke-linejoin="round"/>
<path d="M-17.25 21.02L-18.86 22.98A29.72 29.72 0 0 1 -22.98 18.86L-21.02 17.25A27.19 27.19 0 0 0 -17.25 21.02Z" fill="#8b84cc" stroke="#151515" stroke-width="0.33" stroke-linejoin="round"/>
<path d="M0 0L-23.9 12.77A27.1 27.1 0 0 1 -25.93 7.87Z" fill="#0b79c9" stroke="#151515" stroke-width="0.33" stroke-linejoin="round"/>
<path d="M-23.9 12.77L-46.01 24.59A52.17 52.17 0 0 1 -49.92 15.14L-25.93 7.87A27.1 27.1 0 0 0 -23.9 12.77Z" fill="#ff6a14" stroke="#151515" stroke-width="0.33" stroke-linejoin="round"/>
<path d="M-46.01 24.59L-55.49 29.66A62.92 62.92 0 0 1 -60.21 18.27L-49.92 15.14A52.17 52.17 0 0 0 -46.01 24.59Z" fill="#ffd800" stroke="#151515" stroke-width="0.33" stroke-linejoin="round"/>
<path d="M-55.49 29.66L-57.44 30.7A65.14 65.14 0 0 1 -62.33 18.91L-60.21 18.27A62.92 62.92 0 0 0 -55.49 29.66Z" fill="#8b84cc" stroke="#151515" stroke-width="0.33" stroke-linejoin="round"/>
<path d="M0 0L-21.71 2.14A21.82 21.82 0 0 1 -21.71 -2.14Z" fill="#0b79c9" stroke="#151515" stroke-width="0.33" stroke-linejoin="round"/>
<path d="M-21.71 2.14L-57.11 5.63A57.39 57.39 0 0 1 -57.11 -5.63L-21.71 -2.14A21.82 21.82 0 0 0 -21.71 2.14Z" fill="#ff6a14" stroke="#151515" stroke-width="0.33" stroke-linejoin="round"/>
<path d="M-57.11 5.63L-62.78 6.18A63.08 63.08 0 0 1 -62.78 -6.18L-57.11 -5.63A57.39 57.39 0 0 0 -57.11 5.63Z" fill="#ffd800" stroke="#151515" stroke-width="0.33" stroke-linejoin="round"/>
<path d="M0 0L-11.65 -3.53A12.17 12.17 0 0 1 -10.74 -5.74Z" fill="#0b79c9" stroke="#151515" stroke-width="0.33" stroke-linejoin="round"/>
<path d="M-11.65 -3.53L-22.24 -6.75A23.24 23.24 0 0 1 -20.5 -10.96L-10.74 -5.74A12.17 12.17 0 0 0 -11.65 -3.53Z" fill="#ff6a14" stroke="#151515" stroke-width="0.33" stroke-linejoin="round"/>
<path d="M-22.24 -6.75L-29.95 -9.09A31.3 31.3 0 0 1 -27.61 -14.76L-20.5 -10.96A23.24 23.24 0 0 0 -22.24 -6.75Z" fill="#ffd800" stroke="#151515" stroke-width="0.33" stroke-linejoin="round"/>
<path d="M0 0L-7.09 -5.82A9.17 9.17 0 0 1 -5.82 -7.09Z" fill="#0b79c9" stroke="#151515" stroke-width="0.33" stroke-linejoin="round"/>
<path d="M0 0L-6.11 -11.43A12.96 12.96 0 0 1 -3.76 -12.41Z" fill="#0b79c9" stroke="#151515" stroke-width="0.33" stroke-linejoin="round"/>
<circle r="1.5" fill="#111" fill-opacity="0.85"/>
<text class="c" x="0.3" y="90.5" text-anchor="middle">e</text><text class="q" x="-2.4" y="90.1" text-anchor="end">（</text><text class="q" x="3.6" y="90.1" text-anchor="start">）</text>
</g>
<g transform="translate(177.7 388.6)">
<rect x="0" y="0" width="31.9" height="60.6" fill="#fff" stroke="#8a8a8a" stroke-width="0.5"/>
<rect x="0.7" y="1" width="15" height="7.6" fill="#82d4b4" stroke="#8f8f8f" stroke-width="0.5"/>
<text class="l" x="18.4" y="7.3">&gt;= 6</text>
<rect x="0.7" y="9.55" width="15" height="7.6" fill="#ff5c66" stroke="#8f8f8f" stroke-width="0.5"/>
<text class="l" x="18.4" y="15.85">5–6</text>
<rect x="0.7" y="18.1" width="15" height="7.6" fill="#8b84cc" stroke="#8f8f8f" stroke-width="0.5"/>
<text class="l" x="18.4" y="24.4">4–5</text>
<rect x="0.7" y="26.65" width="15" height="7.6" fill="#ffd800" stroke="#8f8f8f" stroke-width="0.5"/>
<text class="l" x="18.4" y="32.95">3–4</text>
<rect x="0.7" y="35.2" width="15" height="7.6" fill="#ff6a14" stroke="#8f8f8f" stroke-width="0.5"/>
<text class="l" x="18.4" y="41.5">2–3</text>
<rect x="0.7" y="43.75" width="15" height="7.6" fill="#0b79c9" stroke="#8f8f8f" stroke-width="0.5"/>
<text class="l" x="18.4" y="50.05">1–2</text>
<rect x="0.7" y="52.3" width="15" height="7.6" fill="#3fb559" stroke="#8f8f8f" stroke-width="0.5"/>
<text class="l" x="18.4" y="58.6">0–1</text>
</g>
<text class="t" x="153.6" y="385.2">wind speed/m·s<tspan font-size="5.4" dy="-3.2">−1</tspan></text>
<g transform="translate(374.8 453.6)">
<g>
<circle r="9.57" fill="none" stroke="#d2d2d2" stroke-width="0.5"/>
<circle r="19.14" fill="none" stroke="#d2d2d2" stroke-width="0.5"/>
<circle r="28.71" fill="none" stroke="#d2d2d2" stroke-width="0.5"/>
<circle r="38.29" fill="none" stroke="#d2d2d2" stroke-width="0.5"/>
<circle r="47.86" fill="none" stroke="#d2d2d2" stroke-width="0.5"/>
<circle r="57.43" fill="none" stroke="#d2d2d2" stroke-width="0.5"/>
<path d="M0 0L0 -67M0 0L25.64 -61.9M0 0L47.38 -47.38M0 0L61.9 -25.64M0 0L67 -0M0 0L61.9 25.64M0 0L47.38 47.38M0 0L25.64 61.9M0 0L0 67M0 0L-25.64 61.9M0 0L-47.38 47.38M0 0L-61.9 25.64M0 0L-67 0M0 0L-61.9 -25.64M0 0L-47.38 -47.38M0 0L-25.64 -61.9" stroke="#d2d2d2" stroke-width="0.5" fill="none"/>
<circle r="67" fill="none" stroke="#4a4a4a" stroke-width="0.6"/>
<path d="M0 -67L0 -64.8M13.07 -65.71L12.86 -64.63M25.64 -61.9L24.8 -59.87M37.22 -55.71L36.61 -54.79M47.38 -47.38L45.82 -45.82M55.71 -37.22L54.79 -36.61M61.9 -25.64L59.87 -24.8M65.71 -13.07L64.63 -12.86M67 -0L64.8 -0M65.71 13.07L64.63 12.86M61.9 25.64L59.87 24.8M55.71 37.22L54.79 36.61M47.38 47.38L45.82 45.82M37.22 55.71L36.61 54.79M25.64 61.9L24.8 59.87M13.07 65.71L12.86 64.63M0 67L0 64.8M-13.07 65.71L-12.86 64.63M-25.64 61.9L-24.8 59.87M-37.22 55.71L-36.61 54.79M-47.38 47.38L-45.82 45.82M-55.71 37.22L-54.79 36.61M-61.9 25.64L-59.87 24.8M-65.71 13.07L-64.63 12.86M-67 0L-64.8 0M-65.71 -13.07L-64.63 -12.86M-61.9 -25.64L-59.87 -24.8M-55.71 -37.22L-54.79 -36.61M-47.38 -47.38L-45.82 -45.82M-37.22 -55.71L-36.61 -54.79M-25.64 -61.9L-24.8 -59.87M-13.07 -65.71L-12.86 -64.63" stroke="#4a4a4a" stroke-width="0.5" fill="none"/>
<path d="M-0.2 0V-67" stroke="#444" stroke-width="0.6" fill="none"/>
<path d="M0.1 -9.57h1.6M0.1 -19.14h1.6M0.1 -28.71h1.6M0.1 -38.29h1.6M0.1 -47.86h1.6M0.1 -57.43h1.6" stroke="#666" stroke-width="0.45" fill="none"/>
<text class="p" x="-1.1" y="2.15" text-anchor="end">0%</text>
<text class="p" x="-1.1" y="-7.42" text-anchor="end">3%</text>
<text class="p" x="-1.1" y="-16.99" text-anchor="end">6%</text>
<text class="p" x="-1.1" y="-26.56" text-anchor="end">9%</text>
<text class="p" x="-1.1" y="-36.14" text-anchor="end">12%</text>
<text class="p" x="-1.1" y="-45.71" text-anchor="end">15%</text>
<text class="p" x="-1.1" y="-55.28" text-anchor="end">18%</text>
<text class="p" x="-1.1" y="-64.85" text-anchor="end">21%</text>
<text class="d" x="0.3" y="-71.55" text-anchor="middle">N</text>
<text class="d" x="27.2" y="-66.35" text-anchor="start">NNE</text>
<text class="d" x="49.5" y="-51.35" text-anchor="start">NE</text>
<text class="d" x="65.2" y="-28.35" text-anchor="start">ENE</text>
<text class="d" x="70.2" y="3.25" text-anchor="start">E</text>
<text class="d" x="65.2" y="34.75" text-anchor="start">ESE</text>
<text class="d" x="49.5" y="57.65" text-anchor="start">SE</text>
<text class="d" x="27.2" y="72.65" text-anchor="start">SSE</text>
<text class="d" x="0.3" y="78.15" text-anchor="middle">S</text>
<text class="d" x="-26.8" y="72.65" text-anchor="end">SSW</text>
<text class="d" x="-49.8" y="57.65" text-anchor="end">SW</text>
<text class="d" x="-64.8" y="34.75" text-anchor="end">WSW</text>
<text class="d" x="-69.8" y="3.25" text-anchor="end">W</text>
<text class="d" x="-64.8" y="-28.55" text-anchor="end">WNW</text>
<text class="d" x="-49.8" y="-50.95" text-anchor="end">NW</text>
<text class="d" x="-26.8" y="-66.05" text-anchor="end">NNW</text>
</g>
<path d="M0 0L-0.77 -7.87A7.9 7.9 0 0 1 0.77 -7.87Z" fill="#0b79c9" stroke="#151515" stroke-width="0.33" stroke-linejoin="round"/>
<path d="M-0.77 -7.87L-0.93 -9.44A9.49 9.49 0 0 1 0.93 -9.44L0.77 -7.87A7.9 7.9 0 0 0 -0.77 -7.87Z" fill="#ff6a14" stroke="#151515" stroke-width="0.33" stroke-linejoin="round"/>
<path d="M0 0L1.65 -5.45A5.69 5.69 0 0 1 2.68 -5.02Z" fill="#0b79c9" stroke="#151515" stroke-width="0.33" stroke-linejoin="round"/>
<path d="M0 0L6.22 -7.58A9.8 9.8 0 0 1 7.58 -6.22Z" fill="#0b79c9" stroke="#151515" stroke-width="0.33" stroke-linejoin="round"/>
<path d="M6.22 -7.58L7.56 -9.21A11.92 11.92 0 0 1 9.21 -7.56L7.58 -6.22A9.8 9.8 0 0 0 6.22 -7.58Z" fill="#ff6a14" stroke="#151515" stroke-width="0.33" stroke-linejoin="round"/>
<path d="M0 0L10.99 -5.87A12.46 12.46 0 0 1 11.92 -3.62Z" fill="#0b79c9" stroke="#151515" stroke-width="0.33" stroke-linejoin="round"/>
<path d="M10.99 -5.87L12.55 -6.71A14.23 14.23 0 0 1 13.62 -4.13L11.92 -3.62A12.46 12.46 0 0 0 10.99 -5.87Z" fill="#ff6a14" stroke="#151515" stroke-width="0.33" stroke-linejoin="round"/>
<path d="M12.55 -6.71L13.52 -7.23A15.34 15.34 0 0 1 14.67 -4.45L13.62 -4.13A14.23 14.23 0 0 0 12.55 -6.71Z" fill="#8b84cc" stroke="#151515" stroke-width="0.33" stroke-linejoin="round"/>
<path d="M0 0L29.2 -2.88A29.34 29.34 0 0 1 29.2 2.88Z" fill="#0b79c9" stroke="#151515" stroke-width="0.33" stroke-linejoin="round"/>
<path d="M29.2 -2.88L43.9 -4.32A44.11 44.11 0 0 1 43.9 4.32L29.2 2.88A29.34 29.34 0 0 0 29.2 -2.88Z" fill="#ff6a14" stroke="#151515" stroke-width="0.33" stroke-linejoin="round"/>
<path d="M43.9 -4.32L49.72 -4.9A49.96 49.96 0 0 1 49.72 4.9L43.9 4.32A44.11 44.11 0 0 0 43.9 -4.32Z" fill="#ffd800" stroke="#151515" stroke-width="0.33" stroke-linejoin="round"/>
<path d="M0 0L15.61 4.74A16.32 16.32 0 0 1 14.39 7.69Z" fill="#0b79c9" stroke="#151515" stroke-width="0.33" stroke-linejoin="round"/>
<path d="M15.61 4.74L23.3 7.07A24.35 24.35 0 0 1 21.47 11.48L14.39 7.69A16.32 16.32 0 0 0 15.61 4.74Z" fill="#ff6a14" stroke="#151515" stroke-width="0.33" stroke-linejoin="round"/>
<path d="M23.3 7.07L24.72 7.5A25.83 25.83 0 0 1 22.78 12.18L21.47 11.48A24.35 24.35 0 0 0 23.3 7.07Z" fill="#ffd800" stroke="#151515" stroke-width="0.33" stroke-linejoin="round"/>
<path d="M0 0L8.31 6.82A10.75 10.75 0 0 1 6.82 8.31Z" fill="#0b79c9" stroke="#151515" stroke-width="0.33" stroke-linejoin="round"/>
<path d="M8.31 6.82L9.9 8.12A12.81 12.81 0 0 1 8.12 9.9L6.82 8.31A10.75 10.75 0 0 0 8.31 6.82Z" fill="#ff6a14" stroke="#151515" stroke-width="0.33" stroke-linejoin="round"/>
<path d="M0 0L4.47 8.37A9.49 9.49 0 0 1 2.75 9.08Z" fill="#0b79c9" stroke="#151515" stroke-width="0.33" stroke-linejoin="round"/>
<path d="M4.47 8.37L5.28 9.87A11.19 11.19 0 0 1 3.25 10.71L2.75 9.08A9.49 9.49 0 0 0 4.47 8.37Z" fill="#ff6a14" stroke="#151515" stroke-width="0.33" stroke-linejoin="round"/>
<path d="M0 0L1.49 15.1A15.18 15.18 0 0 1 -1.49 15.1Z" fill="#0b79c9" stroke="#151515" stroke-width="0.33" stroke-linejoin="round"/>
<path d="M1.49 15.1L1.69 17.18A17.26 17.26 0 0 1 -1.69 17.18L-1.49 15.1A15.18 15.18 0 0 0 1.49 15.1Z" fill="#ffd800" stroke="#151515" stroke-width="0.33" stroke-linejoin="round"/>
<path d="M1.69 17.18L1.8 18.25A18.34 18.34 0 0 1 -1.8 18.25L-1.69 17.18A17.26 17.26 0 0 0 1.69 17.18Z" fill="#8b84cc" stroke="#151515" stroke-width="0.33" stroke-linejoin="round"/>
<path d="M1.8 18.25L1.89 19.19A19.29 19.29 0 0 1 -1.89 19.19L-1.8 18.25A18.34 18.34 0 0 0 1.8 18.25Z" fill="#82d4b4" stroke="#151515" stroke-width="0.33" stroke-linejoin="round"/>
<path d="M0 0L-1.42 4.69A4.9 4.9 0 0 1 -2.31 4.32Z" fill="#0b79c9" stroke="#151515" stroke-width="0.33" stroke-linejoin="round"/>
<path d="M-1.42 4.69L-2.94 9.68A10.12 10.12 0 0 1 -4.77 8.92L-2.31 4.32A4.9 4.9 0 0 0 -1.42 4.69Z" fill="#ff6a14" stroke="#151515" stroke-width="0.33" stroke-linejoin="round"/>
<path d="M-2.94 9.68L-4.31 14.22A14.86 14.86 0 0 1 -7.01 13.11L-4.77 8.92A10.12 10.12 0 0 0 -2.94 9.68Z" fill="#ffd800" stroke="#151515" stroke-width="0.33" stroke-linejoin="round"/>
<path d="M-4.31 14.22L-4.86 16.04A16.76 16.76 0 0 1 -7.9 14.78L-7.01 13.11A14.86 14.86 0 0 0 -4.31 14.22Z" fill="#ff5c66" stroke="#151515" stroke-width="0.33" stroke-linejoin="round"/>
<path d="M-4.86 16.04L-5.23 17.25A18.02 18.02 0 0 1 -8.5 15.89L-7.9 14.78A16.76 16.76 0 0 0 -4.86 16.04Z" fill="#82d4b4" stroke="#151515" stroke-width="0.33" stroke-linejoin="round"/>
<path d="M0 0L-4.15 5.06A6.55 6.55 0 0 1 -5.06 4.15Z" fill="#0b79c9" stroke="#151515" stroke-width="0.33" stroke-linejoin="round"/>
<path d="M-4.15 5.06L-10.43 12.71A16.44 16.44 0 0 1 -12.71 10.43L-5.06 4.15A6.55 6.55 0 0 0 -4.15 5.06Z" fill="#ff6a14" stroke="#151515" stroke-width="0.33" stroke-linejoin="round"/>
<path d="M-10.43 12.71L-14.24 17.35A22.45 22.45 0 0 1 -17.35 14.24L-12.71 10.43A16.44 16.44 0 0 0 -10.43 12.71Z" fill="#ffd800" stroke="#151515" stroke-width="0.33" stroke-linejoin="round"/>
<path d="M-14.24 17.35L-17.19 20.95A27.1 27.1 0 0 1 -20.95 17.19L-17.35 14.24A22.45 22.45 0 0 0 -14.24 17.35Z" fill="#8b84cc" stroke="#151515" stroke-width="0.33" stroke-linejoin="round"/>
<path d="M-17.19 20.95L-18.19 22.17A28.68 28.68 0 0 1 -22.17 18.19L-20.95 17.19A27.1 27.1 0 0 0 -17.19 20.95Z" fill="#ff5c66" stroke="#151515" stroke-width="0.33" stroke-linejoin="round"/>
<path d="M-18.19 22.17L-19.6 23.88A30.89 30.89 0 0 1 -23.88 19.6L-22.17 18.19A28.68 28.68 0 0 0 -18.19 22.17Z" fill="#82d4b4" stroke="#151515" stroke-width="0.33" stroke-linejoin="round"/>
<path d="M0 0L-6.41 3.43A7.27 7.27 0 0 1 -6.96 2.11Z" fill="#0b79c9" stroke="#151515" stroke-width="0.33" stroke-linejoin="round"/>
<path d="M-6.41 3.43L-13.66 7.3A15.49 15.49 0 0 1 -14.83 4.5L-6.96 2.11A7.27 7.27 0 0 0 -6.41 3.43Z" fill="#ff6a14" stroke="#151515" stroke-width="0.33" stroke-linejoin="round"/>
<path d="M-13.66 7.3L-18.13 9.69A20.55 20.55 0 0 1 -19.67 5.97L-14.83 4.5A15.49 15.49 0 0 0 -13.66 7.3Z" fill="#ffd800" stroke="#151515" stroke-width="0.33" stroke-linejoin="round"/>
<path d="M-18.13 9.69L-24.26 12.97A27.51 27.51 0 0 1 -26.32 7.99L-19.67 5.97A20.55 20.55 0 0 0 -18.13 9.69Z" fill="#8b84cc" stroke="#151515" stroke-width="0.33" stroke-linejoin="round"/>
<path d="M-24.26 12.97L-26.57 14.2A30.13 30.13 0 0 1 -28.84 8.75L-26.32 7.99A27.51 27.51 0 0 0 -24.26 12.97Z" fill="#ff5c66" stroke="#151515" stroke-width="0.33" stroke-linejoin="round"/>
<path d="M-26.57 14.2L-36.36 19.44A41.23 41.23 0 0 1 -39.46 11.97L-28.84 8.75A30.13 30.13 0 0 0 -26.57 14.2Z" fill="#82d4b4" stroke="#151515" stroke-width="0.33" stroke-linejoin="round"/>
<path d="M0 0L-10.89 1.07A10.94 10.94 0 0 1 -10.89 -1.07Z" fill="#0b79c9" stroke="#151515" stroke-width="0.33" stroke-linejoin="round"/>
<path d="M-10.89 1.07L-24.23 2.39A24.35 24.35 0 0 1 -24.23 -2.39L-10.89 -1.07A10.94 10.94 0 0 0 -10.89 1.07Z" fill="#ff6a14" stroke="#151515" stroke-width="0.33" stroke-linejoin="round"/>
<path d="M-24.23 2.39L-26.56 2.62A26.69 26.69 0 0 1 -26.56 -2.62L-24.23 -2.39A24.35 24.35 0 0 0 -24.23 2.39Z" fill="#ffd800" stroke="#151515" stroke-width="0.33" stroke-linejoin="round"/>
<path d="M-26.56 2.62L-30.74 3.03A30.89 30.89 0 0 1 -30.74 -3.03L-26.56 -2.62A26.69 26.69 0 0 0 -26.56 2.62Z" fill="#8b84cc" stroke="#151515" stroke-width="0.33" stroke-linejoin="round"/>
<path d="M-30.74 3.03L-33.26 3.28A33.42 33.42 0 0 1 -33.26 -3.28L-30.74 -3.03A30.89 30.89 0 0 0 -30.74 3.03Z" fill="#82d4b4" stroke="#151515" stroke-width="0.33" stroke-linejoin="round"/>
<path d="M0 0L-7.56 -2.29A7.9 7.9 0 0 1 -6.97 -3.73Z" fill="#0b79c9" stroke="#151515" stroke-width="0.33" stroke-linejoin="round"/>
<path d="M-7.56 -2.29L-10.59 -3.21A11.07 11.07 0 0 1 -9.76 -5.22L-6.97 -3.73A7.9 7.9 0 0 0 -7.56 -2.29Z" fill="#ff6a14" stroke="#151515" stroke-width="0.33" stroke-linejoin="round"/>
<path d="M0 0L-2.93 -2.41A3.79 3.79 0 0 1 -2.41 -2.93Z" fill="#0b79c9" stroke="#151515" stroke-width="0.33" stroke-linejoin="round"/>
<path d="M-2.93 -2.41L-4.16 -3.41A5.38 5.38 0 0 1 -3.41 -4.16L-2.41 -2.93A3.79 3.79 0 0 0 -2.93 -2.41Z" fill="#ff6a14" stroke="#151515" stroke-width="0.33" stroke-linejoin="round"/>
<path d="M0 0L-5.07 -9.48A10.75 10.75 0 0 1 -3.12 -10.29Z" fill="#0b79c9" stroke="#151515" stroke-width="0.33" stroke-linejoin="round"/>
<circle r="1.5" fill="#111" fill-opacity="0.85"/>
<text class="c" x="0.3" y="90.5" text-anchor="middle">f</text><text class="q" x="-2.4" y="90.1" text-anchor="end">（</text><text class="q" x="3.6" y="90.1" text-anchor="start">）</text>
</g>
<g transform="translate(460.8 388.1)">
<rect x="0" y="0" width="31.9" height="60.6" fill="#fff" stroke="#8a8a8a" stroke-width="0.5"/>
<rect x="0.7" y="1" width="15" height="7.6" fill="#82d4b4" stroke="#8f8f8f" stroke-width="0.5"/>
<text class="l" x="18.4" y="7.3">&gt;= 6</text>
<rect x="0.7" y="9.55" width="15" height="7.6" fill="#ff5c66" stroke="#8f8f8f" stroke-width="0.5"/>
<text class="l" x="18.4" y="15.85">5–6</text>
<rect x="0.7" y="18.1" width="15" height="7.6" fill="#8b84cc" stroke="#8f8f8f" stroke-width="0.5"/>
<text class="l" x="18.4" y="24.4">4–5</text>
<rect x="0.7" y="26.65" width="15" height="7.6" fill="#ffd800" stroke="#8f8f8f" stroke-width="0.5"/>
<text class="l" x="18.4" y="32.95">3–4</text>
<rect x="0.7" y="35.2" width="15" height="7.6" fill="#ff6a14" stroke="#8f8f8f" stroke-width="0.5"/>
<text class="l" x="18.4" y="41.5">2–3</text>
<rect x="0.7" y="43.75" width="15" height="7.6" fill="#0b79c9" stroke="#8f8f8f" stroke-width="0.5"/>
<text class="l" x="18.4" y="50.05">1–2</text>
<rect x="0.7" y="52.3" width="15" height="7.6" fill="#3fb559" stroke="#8f8f8f" stroke-width="0.5"/>
<text class="l" x="18.4" y="58.6">0–1</text>
</g>
<text class="t" x="435.2" y="384.2">wind speed/m·s<tspan font-size="5.4" dy="-3.2">−1</tspan></text>
</svg>
</body></html>
